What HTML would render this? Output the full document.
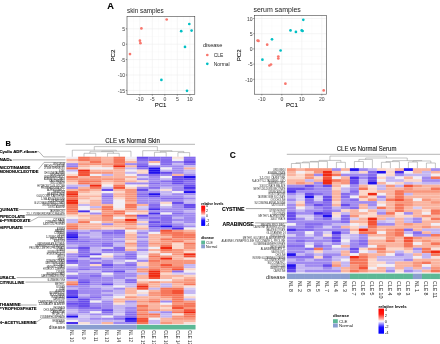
<!DOCTYPE html><html><head><meta charset="utf-8"><style>html,body{margin:0;padding:0;font-family:"Liberation Sans",sans-serif;background:#fff;width:440px;height:344px;overflow:hidden;position:relative}svg{will-change:transform;filter:blur(0.3px)}</style></head><body><svg width="440" height="344" viewBox="0 0 440 344" font-family="&quot;Liberation Sans&quot;, sans-serif" style="position:absolute;left:0;top:0">
<rect x="66.40" y="156.70" width="11.79" height="2.20" fill="#f2eef4"/>
<rect x="78.14" y="156.70" width="11.79" height="2.20" fill="#f6765a"/>
<rect x="89.88" y="156.70" width="11.79" height="2.20" fill="#f8967c"/>
<rect x="101.62" y="156.70" width="11.79" height="2.20" fill="#fab4a0"/>
<rect x="113.36" y="156.70" width="11.79" height="2.20" fill="#f6765a"/>
<rect x="125.10" y="156.70" width="11.79" height="2.20" fill="#f2eef4"/>
<rect x="136.84" y="156.70" width="11.79" height="2.20" fill="#684cec"/>
<rect x="148.58" y="156.70" width="11.79" height="2.20" fill="#866cee"/>
<rect x="160.32" y="156.70" width="11.79" height="2.20" fill="#866cee"/>
<rect x="172.06" y="156.70" width="11.79" height="2.20" fill="#f8e0da"/>
<rect x="183.80" y="156.70" width="11.79" height="2.20" fill="#866cee"/>
<rect x="66.40" y="158.85" width="11.79" height="2.20" fill="#fab4a0"/>
<rect x="78.14" y="158.85" width="11.79" height="2.20" fill="#f6765a"/>
<rect x="89.88" y="158.85" width="11.79" height="2.20" fill="#f8967c"/>
<rect x="101.62" y="158.85" width="11.79" height="2.20" fill="#fab4a0"/>
<rect x="113.36" y="158.85" width="11.79" height="2.20" fill="#f6765a"/>
<rect x="125.10" y="158.85" width="11.79" height="2.20" fill="#f8e0da"/>
<rect x="136.84" y="158.85" width="11.79" height="2.20" fill="#866cee"/>
<rect x="148.58" y="158.85" width="11.79" height="2.20" fill="#866cee"/>
<rect x="160.32" y="158.85" width="11.79" height="2.20" fill="#866cee"/>
<rect x="172.06" y="158.85" width="11.79" height="2.20" fill="#f2eef4"/>
<rect x="183.80" y="158.85" width="11.79" height="2.20" fill="#866cee"/>
<rect x="66.40" y="160.99" width="11.79" height="2.20" fill="#fcd6c8"/>
<rect x="78.14" y="160.99" width="11.79" height="2.20" fill="#fab4a0"/>
<rect x="89.88" y="160.99" width="11.79" height="2.20" fill="#f6765a"/>
<rect x="101.62" y="160.99" width="11.79" height="2.20" fill="#fab4a0"/>
<rect x="113.36" y="160.99" width="11.79" height="2.20" fill="#f6765a"/>
<rect x="125.10" y="160.99" width="11.79" height="2.20" fill="#fab4a0"/>
<rect x="136.84" y="160.99" width="11.79" height="2.20" fill="#a08af0"/>
<rect x="148.58" y="160.99" width="11.79" height="2.20" fill="#fab4a0"/>
<rect x="160.32" y="160.99" width="11.79" height="2.20" fill="#866cee"/>
<rect x="172.06" y="160.99" width="11.79" height="2.20" fill="#a08af0"/>
<rect x="183.80" y="160.99" width="11.79" height="2.20" fill="#684cec"/>
<rect x="66.40" y="163.14" width="11.79" height="2.20" fill="#a08af0"/>
<rect x="78.14" y="163.14" width="11.79" height="2.20" fill="#f8967c"/>
<rect x="89.88" y="163.14" width="11.79" height="2.20" fill="#f8967c"/>
<rect x="101.62" y="163.14" width="11.79" height="2.20" fill="#f8967c"/>
<rect x="113.36" y="163.14" width="11.79" height="2.20" fill="#f6765a"/>
<rect x="125.10" y="163.14" width="11.79" height="2.20" fill="#a08af0"/>
<rect x="136.84" y="163.14" width="11.79" height="2.20" fill="#866cee"/>
<rect x="148.58" y="163.14" width="11.79" height="2.20" fill="#f2eef4"/>
<rect x="160.32" y="163.14" width="11.79" height="2.20" fill="#866cee"/>
<rect x="172.06" y="163.14" width="11.79" height="2.20" fill="#c4b6f2"/>
<rect x="183.80" y="163.14" width="11.79" height="2.20" fill="#866cee"/>
<rect x="66.40" y="165.29" width="11.79" height="2.20" fill="#967eef"/>
<rect x="78.14" y="165.29" width="11.79" height="2.20" fill="#fab4a0"/>
<rect x="89.88" y="165.29" width="11.79" height="2.20" fill="#fcd6c8"/>
<rect x="101.62" y="165.29" width="11.79" height="2.20" fill="#fab4a0"/>
<rect x="113.36" y="165.29" width="11.79" height="2.20" fill="#f02a12"/>
<rect x="125.10" y="165.29" width="11.79" height="2.20" fill="#fab4a0"/>
<rect x="136.84" y="165.29" width="11.79" height="2.20" fill="#684cec"/>
<rect x="148.58" y="165.29" width="11.79" height="2.20" fill="#a08af0"/>
<rect x="160.32" y="165.29" width="11.79" height="2.20" fill="#a08af0"/>
<rect x="172.06" y="165.29" width="11.79" height="2.20" fill="#a08af0"/>
<rect x="183.80" y="165.29" width="11.79" height="2.20" fill="#c4b6f2"/>
<rect x="66.40" y="167.44" width="11.79" height="2.20" fill="#f6765a"/>
<rect x="78.14" y="167.44" width="11.79" height="2.20" fill="#fcd6c8"/>
<rect x="89.88" y="167.44" width="11.79" height="2.20" fill="#f2eef4"/>
<rect x="101.62" y="167.44" width="11.79" height="2.20" fill="#f2eef4"/>
<rect x="113.36" y="167.44" width="11.79" height="2.20" fill="#f8967c"/>
<rect x="125.10" y="167.44" width="11.79" height="2.20" fill="#c4b6f2"/>
<rect x="136.84" y="167.44" width="11.79" height="2.20" fill="#866cee"/>
<rect x="148.58" y="167.44" width="11.79" height="2.20" fill="#2010ee"/>
<rect x="160.32" y="167.44" width="11.79" height="2.20" fill="#f2eef4"/>
<rect x="172.06" y="167.44" width="11.79" height="2.20" fill="#a08af0"/>
<rect x="183.80" y="167.44" width="11.79" height="2.20" fill="#fab4a0"/>
<rect x="66.40" y="169.58" width="11.79" height="2.20" fill="#c4b6f2"/>
<rect x="78.14" y="169.58" width="11.79" height="2.20" fill="#f02a12"/>
<rect x="89.88" y="169.58" width="11.79" height="2.20" fill="#fab4a0"/>
<rect x="101.62" y="169.58" width="11.79" height="2.20" fill="#fab4a0"/>
<rect x="113.36" y="169.58" width="11.79" height="2.20" fill="#fab4a0"/>
<rect x="125.10" y="169.58" width="11.79" height="2.20" fill="#f2eef4"/>
<rect x="136.84" y="169.58" width="11.79" height="2.20" fill="#fcd6c8"/>
<rect x="148.58" y="169.58" width="11.79" height="2.20" fill="#2010ee"/>
<rect x="160.32" y="169.58" width="11.79" height="2.20" fill="#c4b6f2"/>
<rect x="172.06" y="169.58" width="11.79" height="2.20" fill="#a08af0"/>
<rect x="183.80" y="169.58" width="11.79" height="2.20" fill="#c4b6f2"/>
<rect x="66.40" y="171.73" width="11.79" height="2.20" fill="#f2eef4"/>
<rect x="78.14" y="171.73" width="11.79" height="2.20" fill="#f45236"/>
<rect x="89.88" y="171.73" width="11.79" height="2.20" fill="#f8967c"/>
<rect x="101.62" y="171.73" width="11.79" height="2.20" fill="#f8967c"/>
<rect x="113.36" y="171.73" width="11.79" height="2.20" fill="#fab4a0"/>
<rect x="125.10" y="171.73" width="11.79" height="2.20" fill="#c4b6f2"/>
<rect x="136.84" y="171.73" width="11.79" height="2.20" fill="#fcd6c8"/>
<rect x="148.58" y="171.73" width="11.79" height="2.20" fill="#2010ee"/>
<rect x="160.32" y="171.73" width="11.79" height="2.20" fill="#684cec"/>
<rect x="172.06" y="171.73" width="11.79" height="2.20" fill="#a08af0"/>
<rect x="183.80" y="171.73" width="11.79" height="2.20" fill="#c4b6f2"/>
<rect x="66.40" y="173.88" width="11.79" height="2.20" fill="#fcd6c8"/>
<rect x="78.14" y="173.88" width="11.79" height="2.20" fill="#f45236"/>
<rect x="89.88" y="173.88" width="11.79" height="2.20" fill="#f2eef4"/>
<rect x="101.62" y="173.88" width="11.79" height="2.20" fill="#c4b6f2"/>
<rect x="113.36" y="173.88" width="11.79" height="2.20" fill="#fab4a0"/>
<rect x="125.10" y="173.88" width="11.79" height="2.20" fill="#f2eef4"/>
<rect x="136.84" y="173.88" width="11.79" height="2.20" fill="#a08af0"/>
<rect x="148.58" y="173.88" width="11.79" height="2.20" fill="#866cee"/>
<rect x="160.32" y="173.88" width="11.79" height="2.20" fill="#a08af0"/>
<rect x="172.06" y="173.88" width="11.79" height="2.20" fill="#fab4a0"/>
<rect x="183.80" y="173.88" width="11.79" height="2.20" fill="#a08af0"/>
<rect x="66.40" y="176.02" width="11.79" height="2.20" fill="#f6765a"/>
<rect x="78.14" y="176.02" width="11.79" height="2.20" fill="#fab4a0"/>
<rect x="89.88" y="176.02" width="11.79" height="2.20" fill="#f8967c"/>
<rect x="101.62" y="176.02" width="11.79" height="2.20" fill="#fab4a0"/>
<rect x="113.36" y="176.02" width="11.79" height="2.20" fill="#fab4a0"/>
<rect x="125.10" y="176.02" width="11.79" height="2.20" fill="#fab4a0"/>
<rect x="136.84" y="176.02" width="11.79" height="2.20" fill="#d6ccf3"/>
<rect x="148.58" y="176.02" width="11.79" height="2.20" fill="#a08af0"/>
<rect x="160.32" y="176.02" width="11.79" height="2.20" fill="#f2eef4"/>
<rect x="172.06" y="176.02" width="11.79" height="2.20" fill="#684cec"/>
<rect x="183.80" y="176.02" width="11.79" height="2.20" fill="#2010ee"/>
<rect x="66.40" y="178.17" width="11.79" height="2.20" fill="#f8967c"/>
<rect x="78.14" y="178.17" width="11.79" height="2.20" fill="#f8967c"/>
<rect x="89.88" y="178.17" width="11.79" height="2.20" fill="#f8967c"/>
<rect x="101.62" y="178.17" width="11.79" height="2.20" fill="#f8967c"/>
<rect x="113.36" y="178.17" width="11.79" height="2.20" fill="#f8967c"/>
<rect x="125.10" y="178.17" width="11.79" height="2.20" fill="#fcd6c8"/>
<rect x="136.84" y="178.17" width="11.79" height="2.20" fill="#a08af0"/>
<rect x="148.58" y="178.17" width="11.79" height="2.20" fill="#a08af0"/>
<rect x="160.32" y="178.17" width="11.79" height="2.20" fill="#c4b6f2"/>
<rect x="172.06" y="178.17" width="11.79" height="2.20" fill="#684cec"/>
<rect x="183.80" y="178.17" width="11.79" height="2.20" fill="#684cec"/>
<rect x="66.40" y="180.32" width="11.79" height="2.20" fill="#fab4a0"/>
<rect x="78.14" y="180.32" width="11.79" height="2.20" fill="#f6765a"/>
<rect x="89.88" y="180.32" width="11.79" height="2.20" fill="#f6765a"/>
<rect x="101.62" y="180.32" width="11.79" height="2.20" fill="#fab4a0"/>
<rect x="113.36" y="180.32" width="11.79" height="2.20" fill="#f8967c"/>
<rect x="125.10" y="180.32" width="11.79" height="2.20" fill="#fab4a0"/>
<rect x="136.84" y="180.32" width="11.79" height="2.20" fill="#fcd6c8"/>
<rect x="148.58" y="180.32" width="11.79" height="2.20" fill="#a08af0"/>
<rect x="160.32" y="180.32" width="11.79" height="2.20" fill="#866cee"/>
<rect x="172.06" y="180.32" width="11.79" height="2.20" fill="#684cec"/>
<rect x="183.80" y="180.32" width="11.79" height="2.20" fill="#866cee"/>
<rect x="66.40" y="182.46" width="11.79" height="2.20" fill="#fcd6c8"/>
<rect x="78.14" y="182.46" width="11.79" height="2.20" fill="#f6765a"/>
<rect x="89.88" y="182.46" width="11.79" height="2.20" fill="#f8967c"/>
<rect x="101.62" y="182.46" width="11.79" height="2.20" fill="#fcd6c8"/>
<rect x="113.36" y="182.46" width="11.79" height="2.20" fill="#fab4a0"/>
<rect x="125.10" y="182.46" width="11.79" height="2.20" fill="#a08af0"/>
<rect x="136.84" y="182.46" width="11.79" height="2.20" fill="#a08af0"/>
<rect x="148.58" y="182.46" width="11.79" height="2.20" fill="#866cee"/>
<rect x="160.32" y="182.46" width="11.79" height="2.20" fill="#a08af0"/>
<rect x="172.06" y="182.46" width="11.79" height="2.20" fill="#684cec"/>
<rect x="183.80" y="182.46" width="11.79" height="2.20" fill="#866cee"/>
<rect x="66.40" y="184.61" width="11.79" height="2.20" fill="#c4b6f2"/>
<rect x="78.14" y="184.61" width="11.79" height="2.20" fill="#c4b6f2"/>
<rect x="89.88" y="184.61" width="11.79" height="2.20" fill="#f02a12"/>
<rect x="101.62" y="184.61" width="11.79" height="2.20" fill="#f2eef4"/>
<rect x="113.36" y="184.61" width="11.79" height="2.20" fill="#f6765a"/>
<rect x="125.10" y="184.61" width="11.79" height="2.20" fill="#f2eef4"/>
<rect x="136.84" y="184.61" width="11.79" height="2.20" fill="#f8e0da"/>
<rect x="148.58" y="184.61" width="11.79" height="2.20" fill="#a08af0"/>
<rect x="160.32" y="184.61" width="11.79" height="2.20" fill="#a08af0"/>
<rect x="172.06" y="184.61" width="11.79" height="2.20" fill="#a08af0"/>
<rect x="183.80" y="184.61" width="11.79" height="2.20" fill="#684cec"/>
<rect x="66.40" y="186.76" width="11.79" height="2.20" fill="#a08af0"/>
<rect x="78.14" y="186.76" width="11.79" height="2.20" fill="#fab4a0"/>
<rect x="89.88" y="186.76" width="11.79" height="2.20" fill="#f6765a"/>
<rect x="101.62" y="186.76" width="11.79" height="2.20" fill="#c4b6f2"/>
<rect x="113.36" y="186.76" width="11.79" height="2.20" fill="#f45236"/>
<rect x="125.10" y="186.76" width="11.79" height="2.20" fill="#fcd6c8"/>
<rect x="136.84" y="186.76" width="11.79" height="2.20" fill="#a08af0"/>
<rect x="148.58" y="186.76" width="11.79" height="2.20" fill="#866cee"/>
<rect x="160.32" y="186.76" width="11.79" height="2.20" fill="#c4b6f2"/>
<rect x="172.06" y="186.76" width="11.79" height="2.20" fill="#a08af0"/>
<rect x="183.80" y="186.76" width="11.79" height="2.20" fill="#482eec"/>
<rect x="66.40" y="188.90" width="11.79" height="2.20" fill="#fab4a0"/>
<rect x="78.14" y="188.90" width="11.79" height="2.20" fill="#f8967c"/>
<rect x="89.88" y="188.90" width="11.79" height="2.20" fill="#fab4a0"/>
<rect x="101.62" y="188.90" width="11.79" height="2.20" fill="#684cec"/>
<rect x="113.36" y="188.90" width="11.79" height="2.20" fill="#fab4a0"/>
<rect x="125.10" y="188.90" width="11.79" height="2.20" fill="#f8967c"/>
<rect x="136.84" y="188.90" width="11.79" height="2.20" fill="#684cec"/>
<rect x="148.58" y="188.90" width="11.79" height="2.20" fill="#c4b6f2"/>
<rect x="160.32" y="188.90" width="11.79" height="2.20" fill="#f8e0da"/>
<rect x="172.06" y="188.90" width="11.79" height="2.20" fill="#a08af0"/>
<rect x="183.80" y="188.90" width="11.79" height="2.20" fill="#866cee"/>
<rect x="66.40" y="191.05" width="11.79" height="2.20" fill="#f45236"/>
<rect x="78.14" y="191.05" width="11.79" height="2.20" fill="#fab4a0"/>
<rect x="89.88" y="191.05" width="11.79" height="2.20" fill="#fcd6c8"/>
<rect x="101.62" y="191.05" width="11.79" height="2.20" fill="#f2eef4"/>
<rect x="113.36" y="191.05" width="11.79" height="2.20" fill="#fcd6c8"/>
<rect x="125.10" y="191.05" width="11.79" height="2.20" fill="#f8967c"/>
<rect x="136.84" y="191.05" width="11.79" height="2.20" fill="#a08af0"/>
<rect x="148.58" y="191.05" width="11.79" height="2.20" fill="#a08af0"/>
<rect x="160.32" y="191.05" width="11.79" height="2.20" fill="#c4b6f2"/>
<rect x="172.06" y="191.05" width="11.79" height="2.20" fill="#f2eef4"/>
<rect x="183.80" y="191.05" width="11.79" height="2.20" fill="#2010ee"/>
<rect x="66.40" y="193.20" width="11.79" height="2.20" fill="#f02a12"/>
<rect x="78.14" y="193.20" width="11.79" height="2.20" fill="#fcd6c8"/>
<rect x="89.88" y="193.20" width="11.79" height="2.20" fill="#fcd6c8"/>
<rect x="101.62" y="193.20" width="11.79" height="2.20" fill="#a08af0"/>
<rect x="113.36" y="193.20" width="11.79" height="2.20" fill="#fab4a0"/>
<rect x="125.10" y="193.20" width="11.79" height="2.20" fill="#f8967c"/>
<rect x="136.84" y="193.20" width="11.79" height="2.20" fill="#866cee"/>
<rect x="148.58" y="193.20" width="11.79" height="2.20" fill="#2010ee"/>
<rect x="160.32" y="193.20" width="11.79" height="2.20" fill="#c4b6f2"/>
<rect x="172.06" y="193.20" width="11.79" height="2.20" fill="#a08af0"/>
<rect x="183.80" y="193.20" width="11.79" height="2.20" fill="#a08af0"/>
<rect x="66.40" y="195.35" width="11.79" height="2.20" fill="#f45236"/>
<rect x="78.14" y="195.35" width="11.79" height="2.20" fill="#fab4a0"/>
<rect x="89.88" y="195.35" width="11.79" height="2.20" fill="#fab4a0"/>
<rect x="101.62" y="195.35" width="11.79" height="2.20" fill="#866cee"/>
<rect x="113.36" y="195.35" width="11.79" height="2.20" fill="#fab4a0"/>
<rect x="125.10" y="195.35" width="11.79" height="2.20" fill="#f8967c"/>
<rect x="136.84" y="195.35" width="11.79" height="2.20" fill="#866cee"/>
<rect x="148.58" y="195.35" width="11.79" height="2.20" fill="#684cec"/>
<rect x="160.32" y="195.35" width="11.79" height="2.20" fill="#a08af0"/>
<rect x="172.06" y="195.35" width="11.79" height="2.20" fill="#a08af0"/>
<rect x="183.80" y="195.35" width="11.79" height="2.20" fill="#c4b6f2"/>
<rect x="66.40" y="197.49" width="11.79" height="2.20" fill="#f6765a"/>
<rect x="78.14" y="197.49" width="11.79" height="2.20" fill="#fab4a0"/>
<rect x="89.88" y="197.49" width="11.79" height="2.20" fill="#fcd6c8"/>
<rect x="101.62" y="197.49" width="11.79" height="2.20" fill="#a08af0"/>
<rect x="113.36" y="197.49" width="11.79" height="2.20" fill="#fcd6c8"/>
<rect x="125.10" y="197.49" width="11.79" height="2.20" fill="#f8967c"/>
<rect x="136.84" y="197.49" width="11.79" height="2.20" fill="#a08af0"/>
<rect x="148.58" y="197.49" width="11.79" height="2.20" fill="#a08af0"/>
<rect x="160.32" y="197.49" width="11.79" height="2.20" fill="#866cee"/>
<rect x="172.06" y="197.49" width="11.79" height="2.20" fill="#866cee"/>
<rect x="183.80" y="197.49" width="11.79" height="2.20" fill="#a08af0"/>
<rect x="66.40" y="199.64" width="11.79" height="2.20" fill="#f02a12"/>
<rect x="78.14" y="199.64" width="11.79" height="2.20" fill="#f8e0da"/>
<rect x="89.88" y="199.64" width="11.79" height="2.20" fill="#fab4a0"/>
<rect x="101.62" y="199.64" width="11.79" height="2.20" fill="#a08af0"/>
<rect x="113.36" y="199.64" width="11.79" height="2.20" fill="#f2eef4"/>
<rect x="125.10" y="199.64" width="11.79" height="2.20" fill="#f8967c"/>
<rect x="136.84" y="199.64" width="11.79" height="2.20" fill="#a08af0"/>
<rect x="148.58" y="199.64" width="11.79" height="2.20" fill="#a08af0"/>
<rect x="160.32" y="199.64" width="11.79" height="2.20" fill="#a08af0"/>
<rect x="172.06" y="199.64" width="11.79" height="2.20" fill="#a08af0"/>
<rect x="183.80" y="199.64" width="11.79" height="2.20" fill="#c4b6f2"/>
<rect x="66.40" y="201.79" width="11.79" height="2.20" fill="#f02a12"/>
<rect x="78.14" y="201.79" width="11.79" height="2.20" fill="#fcd6c8"/>
<rect x="89.88" y="201.79" width="11.79" height="2.20" fill="#fab4a0"/>
<rect x="101.62" y="201.79" width="11.79" height="2.20" fill="#a08af0"/>
<rect x="113.36" y="201.79" width="11.79" height="2.20" fill="#f2eef4"/>
<rect x="125.10" y="201.79" width="11.79" height="2.20" fill="#fab4a0"/>
<rect x="136.84" y="201.79" width="11.79" height="2.20" fill="#a08af0"/>
<rect x="148.58" y="201.79" width="11.79" height="2.20" fill="#a08af0"/>
<rect x="160.32" y="201.79" width="11.79" height="2.20" fill="#fcd6c8"/>
<rect x="172.06" y="201.79" width="11.79" height="2.20" fill="#684cec"/>
<rect x="183.80" y="201.79" width="11.79" height="2.20" fill="#c4b6f2"/>
<rect x="66.40" y="203.93" width="11.79" height="2.20" fill="#f6765a"/>
<rect x="78.14" y="203.93" width="11.79" height="2.20" fill="#c4b6f2"/>
<rect x="89.88" y="203.93" width="11.79" height="2.20" fill="#fab4a0"/>
<rect x="101.62" y="203.93" width="11.79" height="2.20" fill="#fab4a0"/>
<rect x="113.36" y="203.93" width="11.79" height="2.20" fill="#f2eef4"/>
<rect x="125.10" y="203.93" width="11.79" height="2.20" fill="#f6765a"/>
<rect x="136.84" y="203.93" width="11.79" height="2.20" fill="#fab4a0"/>
<rect x="148.58" y="203.93" width="11.79" height="2.20" fill="#866cee"/>
<rect x="160.32" y="203.93" width="11.79" height="2.20" fill="#f2eef4"/>
<rect x="172.06" y="203.93" width="11.79" height="2.20" fill="#a08af0"/>
<rect x="183.80" y="203.93" width="11.79" height="2.20" fill="#684cec"/>
<rect x="66.40" y="206.08" width="11.79" height="2.20" fill="#f6765a"/>
<rect x="78.14" y="206.08" width="11.79" height="2.20" fill="#f2eef4"/>
<rect x="89.88" y="206.08" width="11.79" height="2.20" fill="#c4b6f2"/>
<rect x="101.62" y="206.08" width="11.79" height="2.20" fill="#f6765a"/>
<rect x="113.36" y="206.08" width="11.79" height="2.20" fill="#f2eef4"/>
<rect x="125.10" y="206.08" width="11.79" height="2.20" fill="#f6765a"/>
<rect x="136.84" y="206.08" width="11.79" height="2.20" fill="#d6ccf3"/>
<rect x="148.58" y="206.08" width="11.79" height="2.20" fill="#866cee"/>
<rect x="160.32" y="206.08" width="11.79" height="2.20" fill="#c4b6f2"/>
<rect x="172.06" y="206.08" width="11.79" height="2.20" fill="#a08af0"/>
<rect x="183.80" y="206.08" width="11.79" height="2.20" fill="#684cec"/>
<rect x="66.40" y="208.23" width="11.79" height="2.20" fill="#f6765a"/>
<rect x="78.14" y="208.23" width="11.79" height="2.20" fill="#f2eef4"/>
<rect x="89.88" y="208.23" width="11.79" height="2.20" fill="#fab4a0"/>
<rect x="101.62" y="208.23" width="11.79" height="2.20" fill="#f6765a"/>
<rect x="113.36" y="208.23" width="11.79" height="2.20" fill="#f8e0da"/>
<rect x="125.10" y="208.23" width="11.79" height="2.20" fill="#f8967c"/>
<rect x="136.84" y="208.23" width="11.79" height="2.20" fill="#c4b6f2"/>
<rect x="148.58" y="208.23" width="11.79" height="2.20" fill="#482eec"/>
<rect x="160.32" y="208.23" width="11.79" height="2.20" fill="#a08af0"/>
<rect x="172.06" y="208.23" width="11.79" height="2.20" fill="#a08af0"/>
<rect x="183.80" y="208.23" width="11.79" height="2.20" fill="#a08af0"/>
<rect x="66.40" y="210.38" width="11.79" height="2.20" fill="#f6765a"/>
<rect x="78.14" y="210.38" width="11.79" height="2.20" fill="#482eec"/>
<rect x="89.88" y="210.38" width="11.79" height="2.20" fill="#f2eef4"/>
<rect x="101.62" y="210.38" width="11.79" height="2.20" fill="#f8967c"/>
<rect x="113.36" y="210.38" width="11.79" height="2.20" fill="#f6765a"/>
<rect x="125.10" y="210.38" width="11.79" height="2.20" fill="#fab4a0"/>
<rect x="136.84" y="210.38" width="11.79" height="2.20" fill="#fab4a0"/>
<rect x="148.58" y="210.38" width="11.79" height="2.20" fill="#a08af0"/>
<rect x="160.32" y="210.38" width="11.79" height="2.20" fill="#a08af0"/>
<rect x="172.06" y="210.38" width="11.79" height="2.20" fill="#a08af0"/>
<rect x="183.80" y="210.38" width="11.79" height="2.20" fill="#c4b6f2"/>
<rect x="66.40" y="212.52" width="11.79" height="2.20" fill="#f8967c"/>
<rect x="78.14" y="212.52" width="11.79" height="2.20" fill="#fcd6c8"/>
<rect x="89.88" y="212.52" width="11.79" height="2.20" fill="#a08af0"/>
<rect x="101.62" y="212.52" width="11.79" height="2.20" fill="#f8967c"/>
<rect x="113.36" y="212.52" width="11.79" height="2.20" fill="#f6765a"/>
<rect x="125.10" y="212.52" width="11.79" height="2.20" fill="#f2eef4"/>
<rect x="136.84" y="212.52" width="11.79" height="2.20" fill="#fcd6c8"/>
<rect x="148.58" y="212.52" width="11.79" height="2.20" fill="#482eec"/>
<rect x="160.32" y="212.52" width="11.79" height="2.20" fill="#f2eef4"/>
<rect x="172.06" y="212.52" width="11.79" height="2.20" fill="#866cee"/>
<rect x="183.80" y="212.52" width="11.79" height="2.20" fill="#a08af0"/>
<rect x="66.40" y="214.67" width="11.79" height="2.20" fill="#fcd6c8"/>
<rect x="78.14" y="214.67" width="11.79" height="2.20" fill="#fab4a0"/>
<rect x="89.88" y="214.67" width="11.79" height="2.20" fill="#fab4a0"/>
<rect x="101.62" y="214.67" width="11.79" height="2.20" fill="#f6765a"/>
<rect x="113.36" y="214.67" width="11.79" height="2.20" fill="#fab4a0"/>
<rect x="125.10" y="214.67" width="11.79" height="2.20" fill="#f6765a"/>
<rect x="136.84" y="214.67" width="11.79" height="2.20" fill="#684cec"/>
<rect x="148.58" y="214.67" width="11.79" height="2.20" fill="#a08af0"/>
<rect x="160.32" y="214.67" width="11.79" height="2.20" fill="#866cee"/>
<rect x="172.06" y="214.67" width="11.79" height="2.20" fill="#a08af0"/>
<rect x="183.80" y="214.67" width="11.79" height="2.20" fill="#a08af0"/>
<rect x="66.40" y="216.82" width="11.79" height="2.20" fill="#f2eef4"/>
<rect x="78.14" y="216.82" width="11.79" height="2.20" fill="#fcd6c8"/>
<rect x="89.88" y="216.82" width="11.79" height="2.20" fill="#fab4a0"/>
<rect x="101.62" y="216.82" width="11.79" height="2.20" fill="#f8967c"/>
<rect x="113.36" y="216.82" width="11.79" height="2.20" fill="#f2eef4"/>
<rect x="125.10" y="216.82" width="11.79" height="2.20" fill="#fab4a0"/>
<rect x="136.84" y="216.82" width="11.79" height="2.20" fill="#a08af0"/>
<rect x="148.58" y="216.82" width="11.79" height="2.20" fill="#866cee"/>
<rect x="160.32" y="216.82" width="11.79" height="2.20" fill="#866cee"/>
<rect x="172.06" y="216.82" width="11.79" height="2.20" fill="#c4b6f2"/>
<rect x="183.80" y="216.82" width="11.79" height="2.20" fill="#a08af0"/>
<rect x="66.40" y="218.96" width="11.79" height="2.20" fill="#c4b6f2"/>
<rect x="78.14" y="218.96" width="11.79" height="2.20" fill="#fab4a0"/>
<rect x="89.88" y="218.96" width="11.79" height="2.20" fill="#fab4a0"/>
<rect x="101.62" y="218.96" width="11.79" height="2.20" fill="#f8967c"/>
<rect x="113.36" y="218.96" width="11.79" height="2.20" fill="#fab4a0"/>
<rect x="125.10" y="218.96" width="11.79" height="2.20" fill="#f02a12"/>
<rect x="136.84" y="218.96" width="11.79" height="2.20" fill="#c4b6f2"/>
<rect x="148.58" y="218.96" width="11.79" height="2.20" fill="#a08af0"/>
<rect x="160.32" y="218.96" width="11.79" height="2.20" fill="#866cee"/>
<rect x="172.06" y="218.96" width="11.79" height="2.20" fill="#a08af0"/>
<rect x="183.80" y="218.96" width="11.79" height="2.20" fill="#a08af0"/>
<rect x="66.40" y="221.11" width="11.79" height="2.20" fill="#c4b6f2"/>
<rect x="78.14" y="221.11" width="11.79" height="2.20" fill="#f6765a"/>
<rect x="89.88" y="221.11" width="11.79" height="2.20" fill="#f2eef4"/>
<rect x="101.62" y="221.11" width="11.79" height="2.20" fill="#fab4a0"/>
<rect x="113.36" y="221.11" width="11.79" height="2.20" fill="#f8967c"/>
<rect x="125.10" y="221.11" width="11.79" height="2.20" fill="#f6765a"/>
<rect x="136.84" y="221.11" width="11.79" height="2.20" fill="#fcd6c8"/>
<rect x="148.58" y="221.11" width="11.79" height="2.20" fill="#684cec"/>
<rect x="160.32" y="221.11" width="11.79" height="2.20" fill="#866cee"/>
<rect x="172.06" y="221.11" width="11.79" height="2.20" fill="#c4b6f2"/>
<rect x="183.80" y="221.11" width="11.79" height="2.20" fill="#a08af0"/>
<rect x="66.40" y="223.26" width="11.79" height="2.20" fill="#f8967c"/>
<rect x="78.14" y="223.26" width="11.79" height="2.20" fill="#fab4a0"/>
<rect x="89.88" y="223.26" width="11.79" height="2.20" fill="#fab4a0"/>
<rect x="101.62" y="223.26" width="11.79" height="2.20" fill="#a08af0"/>
<rect x="113.36" y="223.26" width="11.79" height="2.20" fill="#fab4a0"/>
<rect x="125.10" y="223.26" width="11.79" height="2.20" fill="#f8967c"/>
<rect x="136.84" y="223.26" width="11.79" height="2.20" fill="#c4b6f2"/>
<rect x="148.58" y="223.26" width="11.79" height="2.20" fill="#866cee"/>
<rect x="160.32" y="223.26" width="11.79" height="2.20" fill="#866cee"/>
<rect x="172.06" y="223.26" width="11.79" height="2.20" fill="#a08af0"/>
<rect x="183.80" y="223.26" width="11.79" height="2.20" fill="#c4b6f2"/>
<rect x="66.40" y="225.40" width="11.79" height="2.20" fill="#f6765a"/>
<rect x="78.14" y="225.40" width="11.79" height="2.20" fill="#fab4a0"/>
<rect x="89.88" y="225.40" width="11.79" height="2.20" fill="#fab4a0"/>
<rect x="101.62" y="225.40" width="11.79" height="2.20" fill="#fab4a0"/>
<rect x="113.36" y="225.40" width="11.79" height="2.20" fill="#fab4a0"/>
<rect x="125.10" y="225.40" width="11.79" height="2.20" fill="#fab4a0"/>
<rect x="136.84" y="225.40" width="11.79" height="2.20" fill="#fcd6c8"/>
<rect x="148.58" y="225.40" width="11.79" height="2.20" fill="#684cec"/>
<rect x="160.32" y="225.40" width="11.79" height="2.20" fill="#2010ee"/>
<rect x="172.06" y="225.40" width="11.79" height="2.20" fill="#866cee"/>
<rect x="183.80" y="225.40" width="11.79" height="2.20" fill="#a08af0"/>
<rect x="66.40" y="227.55" width="11.79" height="2.20" fill="#f6765a"/>
<rect x="78.14" y="227.55" width="11.79" height="2.20" fill="#fab4a0"/>
<rect x="89.88" y="227.55" width="11.79" height="2.20" fill="#fab4a0"/>
<rect x="101.62" y="227.55" width="11.79" height="2.20" fill="#fcd6c8"/>
<rect x="113.36" y="227.55" width="11.79" height="2.20" fill="#fcd6c8"/>
<rect x="125.10" y="227.55" width="11.79" height="2.20" fill="#f8967c"/>
<rect x="136.84" y="227.55" width="11.79" height="2.20" fill="#fab4a0"/>
<rect x="148.58" y="227.55" width="11.79" height="2.20" fill="#a08af0"/>
<rect x="160.32" y="227.55" width="11.79" height="2.20" fill="#a08af0"/>
<rect x="172.06" y="227.55" width="11.79" height="2.20" fill="#482eec"/>
<rect x="183.80" y="227.55" width="11.79" height="2.20" fill="#f2eef4"/>
<rect x="66.40" y="229.70" width="11.79" height="2.20" fill="#a08af0"/>
<rect x="78.14" y="229.70" width="11.79" height="2.20" fill="#c4b6f2"/>
<rect x="89.88" y="229.70" width="11.79" height="2.20" fill="#a08af0"/>
<rect x="101.62" y="229.70" width="11.79" height="2.20" fill="#a08af0"/>
<rect x="113.36" y="229.70" width="11.79" height="2.20" fill="#866cee"/>
<rect x="125.10" y="229.70" width="11.79" height="2.20" fill="#f2eef4"/>
<rect x="136.84" y="229.70" width="11.79" height="2.20" fill="#c4b6f2"/>
<rect x="148.58" y="229.70" width="11.79" height="2.20" fill="#a08af0"/>
<rect x="160.32" y="229.70" width="11.79" height="2.20" fill="#f45236"/>
<rect x="172.06" y="229.70" width="11.79" height="2.20" fill="#f8967c"/>
<rect x="183.80" y="229.70" width="11.79" height="2.20" fill="#fab4a0"/>
<rect x="66.40" y="231.84" width="11.79" height="2.20" fill="#684cec"/>
<rect x="78.14" y="231.84" width="11.79" height="2.20" fill="#a08af0"/>
<rect x="89.88" y="231.84" width="11.79" height="2.20" fill="#c4b6f2"/>
<rect x="101.62" y="231.84" width="11.79" height="2.20" fill="#866cee"/>
<rect x="113.36" y="231.84" width="11.79" height="2.20" fill="#866cee"/>
<rect x="125.10" y="231.84" width="11.79" height="2.20" fill="#fcd6c8"/>
<rect x="136.84" y="231.84" width="11.79" height="2.20" fill="#a08af0"/>
<rect x="148.58" y="231.84" width="11.79" height="2.20" fill="#f2eef4"/>
<rect x="160.32" y="231.84" width="11.79" height="2.20" fill="#f6765a"/>
<rect x="172.06" y="231.84" width="11.79" height="2.20" fill="#f6765a"/>
<rect x="183.80" y="231.84" width="11.79" height="2.20" fill="#f8967c"/>
<rect x="66.40" y="233.99" width="11.79" height="2.20" fill="#482eec"/>
<rect x="78.14" y="233.99" width="11.79" height="2.20" fill="#c4b6f2"/>
<rect x="89.88" y="233.99" width="11.79" height="2.20" fill="#c4b6f2"/>
<rect x="101.62" y="233.99" width="11.79" height="2.20" fill="#a08af0"/>
<rect x="113.36" y="233.99" width="11.79" height="2.20" fill="#a08af0"/>
<rect x="125.10" y="233.99" width="11.79" height="2.20" fill="#fab4a0"/>
<rect x="136.84" y="233.99" width="11.79" height="2.20" fill="#c4b6f2"/>
<rect x="148.58" y="233.99" width="11.79" height="2.20" fill="#fab4a0"/>
<rect x="160.32" y="233.99" width="11.79" height="2.20" fill="#f8967c"/>
<rect x="172.06" y="233.99" width="11.79" height="2.20" fill="#f6765a"/>
<rect x="183.80" y="233.99" width="11.79" height="2.20" fill="#f6765a"/>
<rect x="66.40" y="236.14" width="11.79" height="2.20" fill="#2010ee"/>
<rect x="78.14" y="236.14" width="11.79" height="2.20" fill="#a08af0"/>
<rect x="89.88" y="236.14" width="11.79" height="2.20" fill="#c4b6f2"/>
<rect x="101.62" y="236.14" width="11.79" height="2.20" fill="#a08af0"/>
<rect x="113.36" y="236.14" width="11.79" height="2.20" fill="#a08af0"/>
<rect x="125.10" y="236.14" width="11.79" height="2.20" fill="#fab4a0"/>
<rect x="136.84" y="236.14" width="11.79" height="2.20" fill="#a08af0"/>
<rect x="148.58" y="236.14" width="11.79" height="2.20" fill="#fab4a0"/>
<rect x="160.32" y="236.14" width="11.79" height="2.20" fill="#fab4a0"/>
<rect x="172.06" y="236.14" width="11.79" height="2.20" fill="#f6765a"/>
<rect x="183.80" y="236.14" width="11.79" height="2.20" fill="#f6765a"/>
<rect x="66.40" y="238.29" width="11.79" height="2.20" fill="#684cec"/>
<rect x="78.14" y="238.29" width="11.79" height="2.20" fill="#a08af0"/>
<rect x="89.88" y="238.29" width="11.79" height="2.20" fill="#a08af0"/>
<rect x="101.62" y="238.29" width="11.79" height="2.20" fill="#a08af0"/>
<rect x="113.36" y="238.29" width="11.79" height="2.20" fill="#c4b6f2"/>
<rect x="125.10" y="238.29" width="11.79" height="2.20" fill="#fab4a0"/>
<rect x="136.84" y="238.29" width="11.79" height="2.20" fill="#c4b6f2"/>
<rect x="148.58" y="238.29" width="11.79" height="2.20" fill="#fab4a0"/>
<rect x="160.32" y="238.29" width="11.79" height="2.20" fill="#f6765a"/>
<rect x="172.06" y="238.29" width="11.79" height="2.20" fill="#f8967c"/>
<rect x="183.80" y="238.29" width="11.79" height="2.20" fill="#f8967c"/>
<rect x="66.40" y="240.43" width="11.79" height="2.20" fill="#866cee"/>
<rect x="78.14" y="240.43" width="11.79" height="2.20" fill="#866cee"/>
<rect x="89.88" y="240.43" width="11.79" height="2.20" fill="#a08af0"/>
<rect x="101.62" y="240.43" width="11.79" height="2.20" fill="#a08af0"/>
<rect x="113.36" y="240.43" width="11.79" height="2.20" fill="#a08af0"/>
<rect x="125.10" y="240.43" width="11.79" height="2.20" fill="#fcd6c8"/>
<rect x="136.84" y="240.43" width="11.79" height="2.20" fill="#a08af0"/>
<rect x="148.58" y="240.43" width="11.79" height="2.20" fill="#fab4a0"/>
<rect x="160.32" y="240.43" width="11.79" height="2.20" fill="#f8967c"/>
<rect x="172.06" y="240.43" width="11.79" height="2.20" fill="#f6765a"/>
<rect x="183.80" y="240.43" width="11.79" height="2.20" fill="#fab4a0"/>
<rect x="66.40" y="242.58" width="11.79" height="2.20" fill="#a08af0"/>
<rect x="78.14" y="242.58" width="11.79" height="2.20" fill="#a08af0"/>
<rect x="89.88" y="242.58" width="11.79" height="2.20" fill="#a08af0"/>
<rect x="101.62" y="242.58" width="11.79" height="2.20" fill="#866cee"/>
<rect x="113.36" y="242.58" width="11.79" height="2.20" fill="#c4b6f2"/>
<rect x="125.10" y="242.58" width="11.79" height="2.20" fill="#f8967c"/>
<rect x="136.84" y="242.58" width="11.79" height="2.20" fill="#a08af0"/>
<rect x="148.58" y="242.58" width="11.79" height="2.20" fill="#f8967c"/>
<rect x="160.32" y="242.58" width="11.79" height="2.20" fill="#f8967c"/>
<rect x="172.06" y="242.58" width="11.79" height="2.20" fill="#fcd6c8"/>
<rect x="183.80" y="242.58" width="11.79" height="2.20" fill="#f6765a"/>
<rect x="66.40" y="244.73" width="11.79" height="2.20" fill="#c4b6f2"/>
<rect x="78.14" y="244.73" width="11.79" height="2.20" fill="#a08af0"/>
<rect x="89.88" y="244.73" width="11.79" height="2.20" fill="#a08af0"/>
<rect x="101.62" y="244.73" width="11.79" height="2.20" fill="#866cee"/>
<rect x="113.36" y="244.73" width="11.79" height="2.20" fill="#c4b6f2"/>
<rect x="125.10" y="244.73" width="11.79" height="2.20" fill="#fab4a0"/>
<rect x="136.84" y="244.73" width="11.79" height="2.20" fill="#a08af0"/>
<rect x="148.58" y="244.73" width="11.79" height="2.20" fill="#fab4a0"/>
<rect x="160.32" y="244.73" width="11.79" height="2.20" fill="#f6765a"/>
<rect x="172.06" y="244.73" width="11.79" height="2.20" fill="#fcd6c8"/>
<rect x="183.80" y="244.73" width="11.79" height="2.20" fill="#f8967c"/>
<rect x="66.40" y="246.87" width="11.79" height="2.20" fill="#a08af0"/>
<rect x="78.14" y="246.87" width="11.79" height="2.20" fill="#684cec"/>
<rect x="89.88" y="246.87" width="11.79" height="2.20" fill="#c4b6f2"/>
<rect x="101.62" y="246.87" width="11.79" height="2.20" fill="#d6ccf3"/>
<rect x="113.36" y="246.87" width="11.79" height="2.20" fill="#866cee"/>
<rect x="125.10" y="246.87" width="11.79" height="2.20" fill="#fcd6c8"/>
<rect x="136.84" y="246.87" width="11.79" height="2.20" fill="#c4b6f2"/>
<rect x="148.58" y="246.87" width="11.79" height="2.20" fill="#f2eef4"/>
<rect x="160.32" y="246.87" width="11.79" height="2.20" fill="#f02a12"/>
<rect x="172.06" y="246.87" width="11.79" height="2.20" fill="#fcd6c8"/>
<rect x="183.80" y="246.87" width="11.79" height="2.20" fill="#f8967c"/>
<rect x="66.40" y="249.02" width="11.79" height="2.20" fill="#f2eef4"/>
<rect x="78.14" y="249.02" width="11.79" height="2.20" fill="#866cee"/>
<rect x="89.88" y="249.02" width="11.79" height="2.20" fill="#c4b6f2"/>
<rect x="101.62" y="249.02" width="11.79" height="2.20" fill="#866cee"/>
<rect x="113.36" y="249.02" width="11.79" height="2.20" fill="#866cee"/>
<rect x="125.10" y="249.02" width="11.79" height="2.20" fill="#fab4a0"/>
<rect x="136.84" y="249.02" width="11.79" height="2.20" fill="#a08af0"/>
<rect x="148.58" y="249.02" width="11.79" height="2.20" fill="#fab4a0"/>
<rect x="160.32" y="249.02" width="11.79" height="2.20" fill="#f6765a"/>
<rect x="172.06" y="249.02" width="11.79" height="2.20" fill="#f8967c"/>
<rect x="183.80" y="249.02" width="11.79" height="2.20" fill="#fab4a0"/>
<rect x="66.40" y="251.17" width="11.79" height="2.20" fill="#f8e0da"/>
<rect x="78.14" y="251.17" width="11.79" height="2.20" fill="#866cee"/>
<rect x="89.88" y="251.17" width="11.79" height="2.20" fill="#c4b6f2"/>
<rect x="101.62" y="251.17" width="11.79" height="2.20" fill="#a08af0"/>
<rect x="113.36" y="251.17" width="11.79" height="2.20" fill="#a08af0"/>
<rect x="125.10" y="251.17" width="11.79" height="2.20" fill="#a08af0"/>
<rect x="136.84" y="251.17" width="11.79" height="2.20" fill="#d6ccf3"/>
<rect x="148.58" y="251.17" width="11.79" height="2.20" fill="#f8e0da"/>
<rect x="160.32" y="251.17" width="11.79" height="2.20" fill="#f8967c"/>
<rect x="172.06" y="251.17" width="11.79" height="2.20" fill="#f8967c"/>
<rect x="183.80" y="251.17" width="11.79" height="2.20" fill="#fcd6c8"/>
<rect x="66.40" y="253.31" width="11.79" height="2.20" fill="#a08af0"/>
<rect x="78.14" y="253.31" width="11.79" height="2.20" fill="#866cee"/>
<rect x="89.88" y="253.31" width="11.79" height="2.20" fill="#684cec"/>
<rect x="101.62" y="253.31" width="11.79" height="2.20" fill="#f2eef4"/>
<rect x="113.36" y="253.31" width="11.79" height="2.20" fill="#c4b6f2"/>
<rect x="125.10" y="253.31" width="11.79" height="2.20" fill="#866cee"/>
<rect x="136.84" y="253.31" width="11.79" height="2.20" fill="#d6ccf3"/>
<rect x="148.58" y="253.31" width="11.79" height="2.20" fill="#f8967c"/>
<rect x="160.32" y="253.31" width="11.79" height="2.20" fill="#f2eef4"/>
<rect x="172.06" y="253.31" width="11.79" height="2.20" fill="#f8967c"/>
<rect x="183.80" y="253.31" width="11.79" height="2.20" fill="#f02a12"/>
<rect x="66.40" y="255.46" width="11.79" height="2.20" fill="#a08af0"/>
<rect x="78.14" y="255.46" width="11.79" height="2.20" fill="#684cec"/>
<rect x="89.88" y="255.46" width="11.79" height="2.20" fill="#f2eef4"/>
<rect x="101.62" y="255.46" width="11.79" height="2.20" fill="#fcd6c8"/>
<rect x="113.36" y="255.46" width="11.79" height="2.20" fill="#a08af0"/>
<rect x="125.10" y="255.46" width="11.79" height="2.20" fill="#866cee"/>
<rect x="136.84" y="255.46" width="11.79" height="2.20" fill="#f2eef4"/>
<rect x="148.58" y="255.46" width="11.79" height="2.20" fill="#f6765a"/>
<rect x="160.32" y="255.46" width="11.79" height="2.20" fill="#f8967c"/>
<rect x="172.06" y="255.46" width="11.79" height="2.20" fill="#fab4a0"/>
<rect x="183.80" y="255.46" width="11.79" height="2.20" fill="#f45236"/>
<rect x="66.40" y="257.61" width="11.79" height="2.20" fill="#a08af0"/>
<rect x="78.14" y="257.61" width="11.79" height="2.20" fill="#c4b6f2"/>
<rect x="89.88" y="257.61" width="11.79" height="2.20" fill="#866cee"/>
<rect x="101.62" y="257.61" width="11.79" height="2.20" fill="#c4b6f2"/>
<rect x="113.36" y="257.61" width="11.79" height="2.20" fill="#a08af0"/>
<rect x="125.10" y="257.61" width="11.79" height="2.20" fill="#866cee"/>
<rect x="136.84" y="257.61" width="11.79" height="2.20" fill="#d6ccf3"/>
<rect x="148.58" y="257.61" width="11.79" height="2.20" fill="#f8967c"/>
<rect x="160.32" y="257.61" width="11.79" height="2.20" fill="#f02a12"/>
<rect x="172.06" y="257.61" width="11.79" height="2.20" fill="#fab4a0"/>
<rect x="183.80" y="257.61" width="11.79" height="2.20" fill="#f8e0da"/>
<rect x="66.40" y="259.76" width="11.79" height="2.20" fill="#684cec"/>
<rect x="78.14" y="259.76" width="11.79" height="2.20" fill="#a08af0"/>
<rect x="89.88" y="259.76" width="11.79" height="2.20" fill="#c4b6f2"/>
<rect x="101.62" y="259.76" width="11.79" height="2.20" fill="#a08af0"/>
<rect x="113.36" y="259.76" width="11.79" height="2.20" fill="#c4b6f2"/>
<rect x="125.10" y="259.76" width="11.79" height="2.20" fill="#f2eef4"/>
<rect x="136.84" y="259.76" width="11.79" height="2.20" fill="#a08af0"/>
<rect x="148.58" y="259.76" width="11.79" height="2.20" fill="#f6765a"/>
<rect x="160.32" y="259.76" width="11.79" height="2.20" fill="#f8967c"/>
<rect x="172.06" y="259.76" width="11.79" height="2.20" fill="#f8967c"/>
<rect x="183.80" y="259.76" width="11.79" height="2.20" fill="#f8967c"/>
<rect x="66.40" y="261.90" width="11.79" height="2.20" fill="#866cee"/>
<rect x="78.14" y="261.90" width="11.79" height="2.20" fill="#a08af0"/>
<rect x="89.88" y="261.90" width="11.79" height="2.20" fill="#866cee"/>
<rect x="101.62" y="261.90" width="11.79" height="2.20" fill="#a08af0"/>
<rect x="113.36" y="261.90" width="11.79" height="2.20" fill="#d6ccf3"/>
<rect x="125.10" y="261.90" width="11.79" height="2.20" fill="#a08af0"/>
<rect x="136.84" y="261.90" width="11.79" height="2.20" fill="#fcd6c8"/>
<rect x="148.58" y="261.90" width="11.79" height="2.20" fill="#f8967c"/>
<rect x="160.32" y="261.90" width="11.79" height="2.20" fill="#f8967c"/>
<rect x="172.06" y="261.90" width="11.79" height="2.20" fill="#f8967c"/>
<rect x="183.80" y="261.90" width="11.79" height="2.20" fill="#f8967c"/>
<rect x="66.40" y="264.05" width="11.79" height="2.20" fill="#f2eef4"/>
<rect x="78.14" y="264.05" width="11.79" height="2.20" fill="#a08af0"/>
<rect x="89.88" y="264.05" width="11.79" height="2.20" fill="#fcd6c8"/>
<rect x="101.62" y="264.05" width="11.79" height="2.20" fill="#684cec"/>
<rect x="113.36" y="264.05" width="11.79" height="2.20" fill="#a08af0"/>
<rect x="125.10" y="264.05" width="11.79" height="2.20" fill="#866cee"/>
<rect x="136.84" y="264.05" width="11.79" height="2.20" fill="#fcd6c8"/>
<rect x="148.58" y="264.05" width="11.79" height="2.20" fill="#f8967c"/>
<rect x="160.32" y="264.05" width="11.79" height="2.20" fill="#f45236"/>
<rect x="172.06" y="264.05" width="11.79" height="2.20" fill="#f8967c"/>
<rect x="183.80" y="264.05" width="11.79" height="2.20" fill="#c4b6f2"/>
<rect x="66.40" y="266.20" width="11.79" height="2.20" fill="#c4b6f2"/>
<rect x="78.14" y="266.20" width="11.79" height="2.20" fill="#a08af0"/>
<rect x="89.88" y="266.20" width="11.79" height="2.20" fill="#a08af0"/>
<rect x="101.62" y="266.20" width="11.79" height="2.20" fill="#866cee"/>
<rect x="113.36" y="266.20" width="11.79" height="2.20" fill="#a08af0"/>
<rect x="125.10" y="266.20" width="11.79" height="2.20" fill="#a08af0"/>
<rect x="136.84" y="266.20" width="11.79" height="2.20" fill="#c4b6f2"/>
<rect x="148.58" y="266.20" width="11.79" height="2.20" fill="#f8967c"/>
<rect x="160.32" y="266.20" width="11.79" height="2.20" fill="#f6765a"/>
<rect x="172.06" y="266.20" width="11.79" height="2.20" fill="#f6765a"/>
<rect x="183.80" y="266.20" width="11.79" height="2.20" fill="#c4b6f2"/>
<rect x="66.40" y="268.34" width="11.79" height="2.20" fill="#a08af0"/>
<rect x="78.14" y="268.34" width="11.79" height="2.20" fill="#866cee"/>
<rect x="89.88" y="268.34" width="11.79" height="2.20" fill="#a08af0"/>
<rect x="101.62" y="268.34" width="11.79" height="2.20" fill="#a08af0"/>
<rect x="113.36" y="268.34" width="11.79" height="2.20" fill="#a08af0"/>
<rect x="125.10" y="268.34" width="11.79" height="2.20" fill="#a08af0"/>
<rect x="136.84" y="268.34" width="11.79" height="2.20" fill="#f8967c"/>
<rect x="148.58" y="268.34" width="11.79" height="2.20" fill="#f6765a"/>
<rect x="160.32" y="268.34" width="11.79" height="2.20" fill="#f8967c"/>
<rect x="172.06" y="268.34" width="11.79" height="2.20" fill="#f45236"/>
<rect x="183.80" y="268.34" width="11.79" height="2.20" fill="#fcd6c8"/>
<rect x="66.40" y="270.49" width="11.79" height="2.20" fill="#a08af0"/>
<rect x="78.14" y="270.49" width="11.79" height="2.20" fill="#c4b6f2"/>
<rect x="89.88" y="270.49" width="11.79" height="2.20" fill="#c4b6f2"/>
<rect x="101.62" y="270.49" width="11.79" height="2.20" fill="#866cee"/>
<rect x="113.36" y="270.49" width="11.79" height="2.20" fill="#684cec"/>
<rect x="125.10" y="270.49" width="11.79" height="2.20" fill="#c4b6f2"/>
<rect x="136.84" y="270.49" width="11.79" height="2.20" fill="#f8967c"/>
<rect x="148.58" y="270.49" width="11.79" height="2.20" fill="#f02a12"/>
<rect x="160.32" y="270.49" width="11.79" height="2.20" fill="#f8967c"/>
<rect x="172.06" y="270.49" width="11.79" height="2.20" fill="#866cee"/>
<rect x="183.80" y="270.49" width="11.79" height="2.20" fill="#f2eef4"/>
<rect x="66.40" y="272.64" width="11.79" height="2.20" fill="#f2eef4"/>
<rect x="78.14" y="272.64" width="11.79" height="2.20" fill="#a08af0"/>
<rect x="89.88" y="272.64" width="11.79" height="2.20" fill="#a08af0"/>
<rect x="101.62" y="272.64" width="11.79" height="2.20" fill="#f2eef4"/>
<rect x="113.36" y="272.64" width="11.79" height="2.20" fill="#a08af0"/>
<rect x="125.10" y="272.64" width="11.79" height="2.20" fill="#a08af0"/>
<rect x="136.84" y="272.64" width="11.79" height="2.20" fill="#c4b6f2"/>
<rect x="148.58" y="272.64" width="11.79" height="2.20" fill="#f02a12"/>
<rect x="160.32" y="272.64" width="11.79" height="2.20" fill="#fcd6c8"/>
<rect x="172.06" y="272.64" width="11.79" height="2.20" fill="#d6ccf3"/>
<rect x="183.80" y="272.64" width="11.79" height="2.20" fill="#c4b6f2"/>
<rect x="66.40" y="274.78" width="11.79" height="2.20" fill="#a08af0"/>
<rect x="78.14" y="274.78" width="11.79" height="2.20" fill="#a08af0"/>
<rect x="89.88" y="274.78" width="11.79" height="2.20" fill="#866cee"/>
<rect x="101.62" y="274.78" width="11.79" height="2.20" fill="#c4b6f2"/>
<rect x="113.36" y="274.78" width="11.79" height="2.20" fill="#a08af0"/>
<rect x="125.10" y="274.78" width="11.79" height="2.20" fill="#a08af0"/>
<rect x="136.84" y="274.78" width="11.79" height="2.20" fill="#fab4a0"/>
<rect x="148.58" y="274.78" width="11.79" height="2.20" fill="#f02a12"/>
<rect x="160.32" y="274.78" width="11.79" height="2.20" fill="#fab4a0"/>
<rect x="172.06" y="274.78" width="11.79" height="2.20" fill="#fab4a0"/>
<rect x="183.80" y="274.78" width="11.79" height="2.20" fill="#fcd6c8"/>
<rect x="66.40" y="276.93" width="11.79" height="2.20" fill="#866cee"/>
<rect x="78.14" y="276.93" width="11.79" height="2.20" fill="#a08af0"/>
<rect x="89.88" y="276.93" width="11.79" height="2.20" fill="#a08af0"/>
<rect x="101.62" y="276.93" width="11.79" height="2.20" fill="#a08af0"/>
<rect x="113.36" y="276.93" width="11.79" height="2.20" fill="#a08af0"/>
<rect x="125.10" y="276.93" width="11.79" height="2.20" fill="#c4b6f2"/>
<rect x="136.84" y="276.93" width="11.79" height="2.20" fill="#fab4a0"/>
<rect x="148.58" y="276.93" width="11.79" height="2.20" fill="#f45236"/>
<rect x="160.32" y="276.93" width="11.79" height="2.20" fill="#fab4a0"/>
<rect x="172.06" y="276.93" width="11.79" height="2.20" fill="#fcd6c8"/>
<rect x="183.80" y="276.93" width="11.79" height="2.20" fill="#fab4a0"/>
<rect x="66.40" y="279.08" width="11.79" height="2.20" fill="#c4b6f2"/>
<rect x="78.14" y="279.08" width="11.79" height="2.20" fill="#866cee"/>
<rect x="89.88" y="279.08" width="11.79" height="2.20" fill="#a08af0"/>
<rect x="101.62" y="279.08" width="11.79" height="2.20" fill="#a08af0"/>
<rect x="113.36" y="279.08" width="11.79" height="2.20" fill="#c4b6f2"/>
<rect x="125.10" y="279.08" width="11.79" height="2.20" fill="#866cee"/>
<rect x="136.84" y="279.08" width="11.79" height="2.20" fill="#f8e0da"/>
<rect x="148.58" y="279.08" width="11.79" height="2.20" fill="#f2eef4"/>
<rect x="160.32" y="279.08" width="11.79" height="2.20" fill="#f2eef4"/>
<rect x="172.06" y="279.08" width="11.79" height="2.20" fill="#fab4a0"/>
<rect x="183.80" y="279.08" width="11.79" height="2.20" fill="#f8967c"/>
<rect x="66.40" y="281.23" width="11.79" height="2.20" fill="#f8967c"/>
<rect x="78.14" y="281.23" width="11.79" height="2.20" fill="#684cec"/>
<rect x="89.88" y="281.23" width="11.79" height="2.20" fill="#a08af0"/>
<rect x="101.62" y="281.23" width="11.79" height="2.20" fill="#a08af0"/>
<rect x="113.36" y="281.23" width="11.79" height="2.20" fill="#c4b6f2"/>
<rect x="125.10" y="281.23" width="11.79" height="2.20" fill="#866cee"/>
<rect x="136.84" y="281.23" width="11.79" height="2.20" fill="#fab4a0"/>
<rect x="148.58" y="281.23" width="11.79" height="2.20" fill="#f8967c"/>
<rect x="160.32" y="281.23" width="11.79" height="2.20" fill="#fab4a0"/>
<rect x="172.06" y="281.23" width="11.79" height="2.20" fill="#f8967c"/>
<rect x="183.80" y="281.23" width="11.79" height="2.20" fill="#f8967c"/>
<rect x="66.40" y="283.37" width="11.79" height="2.20" fill="#f6765a"/>
<rect x="78.14" y="283.37" width="11.79" height="2.20" fill="#866cee"/>
<rect x="89.88" y="283.37" width="11.79" height="2.20" fill="#a08af0"/>
<rect x="101.62" y="283.37" width="11.79" height="2.20" fill="#684cec"/>
<rect x="113.36" y="283.37" width="11.79" height="2.20" fill="#c4b6f2"/>
<rect x="125.10" y="283.37" width="11.79" height="2.20" fill="#c4b6f2"/>
<rect x="136.84" y="283.37" width="11.79" height="2.20" fill="#f6765a"/>
<rect x="148.58" y="283.37" width="11.79" height="2.20" fill="#fab4a0"/>
<rect x="160.32" y="283.37" width="11.79" height="2.20" fill="#c4b6f2"/>
<rect x="172.06" y="283.37" width="11.79" height="2.20" fill="#fab4a0"/>
<rect x="183.80" y="283.37" width="11.79" height="2.20" fill="#f6765a"/>
<rect x="66.40" y="285.52" width="11.79" height="2.20" fill="#a08af0"/>
<rect x="78.14" y="285.52" width="11.79" height="2.20" fill="#a08af0"/>
<rect x="89.88" y="285.52" width="11.79" height="2.20" fill="#c4b6f2"/>
<rect x="101.62" y="285.52" width="11.79" height="2.20" fill="#c4b6f2"/>
<rect x="113.36" y="285.52" width="11.79" height="2.20" fill="#f2eef4"/>
<rect x="125.10" y="285.52" width="11.79" height="2.20" fill="#c4b6f2"/>
<rect x="136.84" y="285.52" width="11.79" height="2.20" fill="#f02a12"/>
<rect x="148.58" y="285.52" width="11.79" height="2.20" fill="#fab4a0"/>
<rect x="160.32" y="285.52" width="11.79" height="2.20" fill="#c4b6f2"/>
<rect x="172.06" y="285.52" width="11.79" height="2.20" fill="#fab4a0"/>
<rect x="183.80" y="285.52" width="11.79" height="2.20" fill="#f8e0da"/>
<rect x="66.40" y="287.67" width="11.79" height="2.20" fill="#c4b6f2"/>
<rect x="78.14" y="287.67" width="11.79" height="2.20" fill="#a08af0"/>
<rect x="89.88" y="287.67" width="11.79" height="2.20" fill="#a08af0"/>
<rect x="101.62" y="287.67" width="11.79" height="2.20" fill="#c4b6f2"/>
<rect x="113.36" y="287.67" width="11.79" height="2.20" fill="#a08af0"/>
<rect x="125.10" y="287.67" width="11.79" height="2.20" fill="#fab4a0"/>
<rect x="136.84" y="287.67" width="11.79" height="2.20" fill="#f45236"/>
<rect x="148.58" y="287.67" width="11.79" height="2.20" fill="#c4b6f2"/>
<rect x="160.32" y="287.67" width="11.79" height="2.20" fill="#f6765a"/>
<rect x="172.06" y="287.67" width="11.79" height="2.20" fill="#f6765a"/>
<rect x="183.80" y="287.67" width="11.79" height="2.20" fill="#d6ccf3"/>
<rect x="66.40" y="289.81" width="11.79" height="2.20" fill="#684cec"/>
<rect x="78.14" y="289.81" width="11.79" height="2.20" fill="#a08af0"/>
<rect x="89.88" y="289.81" width="11.79" height="2.20" fill="#a08af0"/>
<rect x="101.62" y="289.81" width="11.79" height="2.20" fill="#a08af0"/>
<rect x="113.36" y="289.81" width="11.79" height="2.20" fill="#c4b6f2"/>
<rect x="125.10" y="289.81" width="11.79" height="2.20" fill="#fab4a0"/>
<rect x="136.84" y="289.81" width="11.79" height="2.20" fill="#f2eef4"/>
<rect x="148.58" y="289.81" width="11.79" height="2.20" fill="#fab4a0"/>
<rect x="160.32" y="289.81" width="11.79" height="2.20" fill="#f6765a"/>
<rect x="172.06" y="289.81" width="11.79" height="2.20" fill="#f45236"/>
<rect x="183.80" y="289.81" width="11.79" height="2.20" fill="#c4b6f2"/>
<rect x="66.40" y="291.96" width="11.79" height="2.20" fill="#684cec"/>
<rect x="78.14" y="291.96" width="11.79" height="2.20" fill="#a08af0"/>
<rect x="89.88" y="291.96" width="11.79" height="2.20" fill="#a08af0"/>
<rect x="101.62" y="291.96" width="11.79" height="2.20" fill="#c4b6f2"/>
<rect x="113.36" y="291.96" width="11.79" height="2.20" fill="#c4b6f2"/>
<rect x="125.10" y="291.96" width="11.79" height="2.20" fill="#fab4a0"/>
<rect x="136.84" y="291.96" width="11.79" height="2.20" fill="#f8e0da"/>
<rect x="148.58" y="291.96" width="11.79" height="2.20" fill="#f8967c"/>
<rect x="160.32" y="291.96" width="11.79" height="2.20" fill="#f6765a"/>
<rect x="172.06" y="291.96" width="11.79" height="2.20" fill="#f45236"/>
<rect x="183.80" y="291.96" width="11.79" height="2.20" fill="#c4b6f2"/>
<rect x="66.40" y="294.11" width="11.79" height="2.20" fill="#684cec"/>
<rect x="78.14" y="294.11" width="11.79" height="2.20" fill="#c4b6f2"/>
<rect x="89.88" y="294.11" width="11.79" height="2.20" fill="#a08af0"/>
<rect x="101.62" y="294.11" width="11.79" height="2.20" fill="#a08af0"/>
<rect x="113.36" y="294.11" width="11.79" height="2.20" fill="#d6ccf3"/>
<rect x="125.10" y="294.11" width="11.79" height="2.20" fill="#fcd6c8"/>
<rect x="136.84" y="294.11" width="11.79" height="2.20" fill="#d6ccf3"/>
<rect x="148.58" y="294.11" width="11.79" height="2.20" fill="#f8967c"/>
<rect x="160.32" y="294.11" width="11.79" height="2.20" fill="#f6765a"/>
<rect x="172.06" y="294.11" width="11.79" height="2.20" fill="#f6765a"/>
<rect x="183.80" y="294.11" width="11.79" height="2.20" fill="#f2eef4"/>
<rect x="66.40" y="296.25" width="11.79" height="2.20" fill="#2010ee"/>
<rect x="78.14" y="296.25" width="11.79" height="2.20" fill="#a08af0"/>
<rect x="89.88" y="296.25" width="11.79" height="2.20" fill="#866cee"/>
<rect x="101.62" y="296.25" width="11.79" height="2.20" fill="#c4b6f2"/>
<rect x="113.36" y="296.25" width="11.79" height="2.20" fill="#f2eef4"/>
<rect x="125.10" y="296.25" width="11.79" height="2.20" fill="#f8967c"/>
<rect x="136.84" y="296.25" width="11.79" height="2.20" fill="#fab4a0"/>
<rect x="148.58" y="296.25" width="11.79" height="2.20" fill="#fab4a0"/>
<rect x="160.32" y="296.25" width="11.79" height="2.20" fill="#f8967c"/>
<rect x="172.06" y="296.25" width="11.79" height="2.20" fill="#f6765a"/>
<rect x="183.80" y="296.25" width="11.79" height="2.20" fill="#fcd6c8"/>
<rect x="66.40" y="298.40" width="11.79" height="2.20" fill="#a08af0"/>
<rect x="78.14" y="298.40" width="11.79" height="2.20" fill="#684cec"/>
<rect x="89.88" y="298.40" width="11.79" height="2.20" fill="#a08af0"/>
<rect x="101.62" y="298.40" width="11.79" height="2.20" fill="#c4b6f2"/>
<rect x="113.36" y="298.40" width="11.79" height="2.20" fill="#fab4a0"/>
<rect x="125.10" y="298.40" width="11.79" height="2.20" fill="#fab4a0"/>
<rect x="136.84" y="298.40" width="11.79" height="2.20" fill="#fab4a0"/>
<rect x="148.58" y="298.40" width="11.79" height="2.20" fill="#f8967c"/>
<rect x="160.32" y="298.40" width="11.79" height="2.20" fill="#fab4a0"/>
<rect x="172.06" y="298.40" width="11.79" height="2.20" fill="#f6765a"/>
<rect x="183.80" y="298.40" width="11.79" height="2.20" fill="#c4b6f2"/>
<rect x="66.40" y="300.55" width="11.79" height="2.20" fill="#866cee"/>
<rect x="78.14" y="300.55" width="11.79" height="2.20" fill="#684cec"/>
<rect x="89.88" y="300.55" width="11.79" height="2.20" fill="#f2eef4"/>
<rect x="101.62" y="300.55" width="11.79" height="2.20" fill="#a08af0"/>
<rect x="113.36" y="300.55" width="11.79" height="2.20" fill="#fab4a0"/>
<rect x="125.10" y="300.55" width="11.79" height="2.20" fill="#a08af0"/>
<rect x="136.84" y="300.55" width="11.79" height="2.20" fill="#f8967c"/>
<rect x="148.58" y="300.55" width="11.79" height="2.20" fill="#f6765a"/>
<rect x="160.32" y="300.55" width="11.79" height="2.20" fill="#a08af0"/>
<rect x="172.06" y="300.55" width="11.79" height="2.20" fill="#f6765a"/>
<rect x="183.80" y="300.55" width="11.79" height="2.20" fill="#f8967c"/>
<rect x="66.40" y="302.70" width="11.79" height="2.20" fill="#684cec"/>
<rect x="78.14" y="302.70" width="11.79" height="2.20" fill="#684cec"/>
<rect x="89.88" y="302.70" width="11.79" height="2.20" fill="#a08af0"/>
<rect x="101.62" y="302.70" width="11.79" height="2.20" fill="#a08af0"/>
<rect x="113.36" y="302.70" width="11.79" height="2.20" fill="#f8e0da"/>
<rect x="125.10" y="302.70" width="11.79" height="2.20" fill="#c4b6f2"/>
<rect x="136.84" y="302.70" width="11.79" height="2.20" fill="#fab4a0"/>
<rect x="148.58" y="302.70" width="11.79" height="2.20" fill="#fab4a0"/>
<rect x="160.32" y="302.70" width="11.79" height="2.20" fill="#f2eef4"/>
<rect x="172.06" y="302.70" width="11.79" height="2.20" fill="#f8967c"/>
<rect x="183.80" y="302.70" width="11.79" height="2.20" fill="#f6765a"/>
<rect x="66.40" y="304.84" width="11.79" height="2.20" fill="#866cee"/>
<rect x="78.14" y="304.84" width="11.79" height="2.20" fill="#684cec"/>
<rect x="89.88" y="304.84" width="11.79" height="2.20" fill="#a08af0"/>
<rect x="101.62" y="304.84" width="11.79" height="2.20" fill="#a08af0"/>
<rect x="113.36" y="304.84" width="11.79" height="2.20" fill="#c4b6f2"/>
<rect x="125.10" y="304.84" width="11.79" height="2.20" fill="#c4b6f2"/>
<rect x="136.84" y="304.84" width="11.79" height="2.20" fill="#f6765a"/>
<rect x="148.58" y="304.84" width="11.79" height="2.20" fill="#fab4a0"/>
<rect x="160.32" y="304.84" width="11.79" height="2.20" fill="#fab4a0"/>
<rect x="172.06" y="304.84" width="11.79" height="2.20" fill="#f6765a"/>
<rect x="183.80" y="304.84" width="11.79" height="2.20" fill="#f6765a"/>
<rect x="66.40" y="306.99" width="11.79" height="2.20" fill="#a08af0"/>
<rect x="78.14" y="306.99" width="11.79" height="2.20" fill="#866cee"/>
<rect x="89.88" y="306.99" width="11.79" height="2.20" fill="#866cee"/>
<rect x="101.62" y="306.99" width="11.79" height="2.20" fill="#a08af0"/>
<rect x="113.36" y="306.99" width="11.79" height="2.20" fill="#c4b6f2"/>
<rect x="125.10" y="306.99" width="11.79" height="2.20" fill="#a08af0"/>
<rect x="136.84" y="306.99" width="11.79" height="2.20" fill="#f8967c"/>
<rect x="148.58" y="306.99" width="11.79" height="2.20" fill="#fab4a0"/>
<rect x="160.32" y="306.99" width="11.79" height="2.20" fill="#fcd6c8"/>
<rect x="172.06" y="306.99" width="11.79" height="2.20" fill="#f45236"/>
<rect x="183.80" y="306.99" width="11.79" height="2.20" fill="#f8967c"/>
<rect x="66.40" y="309.14" width="11.79" height="2.20" fill="#c4b6f2"/>
<rect x="78.14" y="309.14" width="11.79" height="2.20" fill="#a08af0"/>
<rect x="89.88" y="309.14" width="11.79" height="2.20" fill="#a08af0"/>
<rect x="101.62" y="309.14" width="11.79" height="2.20" fill="#684cec"/>
<rect x="113.36" y="309.14" width="11.79" height="2.20" fill="#c4b6f2"/>
<rect x="125.10" y="309.14" width="11.79" height="2.20" fill="#a08af0"/>
<rect x="136.84" y="309.14" width="11.79" height="2.20" fill="#f6765a"/>
<rect x="148.58" y="309.14" width="11.79" height="2.20" fill="#f8967c"/>
<rect x="160.32" y="309.14" width="11.79" height="2.20" fill="#fab4a0"/>
<rect x="172.06" y="309.14" width="11.79" height="2.20" fill="#f8967c"/>
<rect x="183.80" y="309.14" width="11.79" height="2.20" fill="#f45236"/>
<rect x="66.40" y="311.28" width="11.79" height="2.20" fill="#c4b6f2"/>
<rect x="78.14" y="311.28" width="11.79" height="2.20" fill="#a08af0"/>
<rect x="89.88" y="311.28" width="11.79" height="2.20" fill="#f2eef4"/>
<rect x="101.62" y="311.28" width="11.79" height="2.20" fill="#866cee"/>
<rect x="113.36" y="311.28" width="11.79" height="2.20" fill="#c4b6f2"/>
<rect x="125.10" y="311.28" width="11.79" height="2.20" fill="#866cee"/>
<rect x="136.84" y="311.28" width="11.79" height="2.20" fill="#f8967c"/>
<rect x="148.58" y="311.28" width="11.79" height="2.20" fill="#c4b6f2"/>
<rect x="160.32" y="311.28" width="11.79" height="2.20" fill="#a08af0"/>
<rect x="172.06" y="311.28" width="11.79" height="2.20" fill="#f6765a"/>
<rect x="183.80" y="311.28" width="11.79" height="2.20" fill="#f02a12"/>
<rect x="66.40" y="313.43" width="11.79" height="2.20" fill="#a08af0"/>
<rect x="78.14" y="313.43" width="11.79" height="2.20" fill="#c4b6f2"/>
<rect x="89.88" y="313.43" width="11.79" height="2.20" fill="#a08af0"/>
<rect x="101.62" y="313.43" width="11.79" height="2.20" fill="#a08af0"/>
<rect x="113.36" y="313.43" width="11.79" height="2.20" fill="#d6ccf3"/>
<rect x="125.10" y="313.43" width="11.79" height="2.20" fill="#866cee"/>
<rect x="136.84" y="313.43" width="11.79" height="2.20" fill="#f6765a"/>
<rect x="148.58" y="313.43" width="11.79" height="2.20" fill="#f6765a"/>
<rect x="160.32" y="313.43" width="11.79" height="2.20" fill="#c4b6f2"/>
<rect x="172.06" y="313.43" width="11.79" height="2.20" fill="#f8e0da"/>
<rect x="183.80" y="313.43" width="11.79" height="2.20" fill="#f6765a"/>
<rect x="66.40" y="315.58" width="11.79" height="2.20" fill="#2010ee"/>
<rect x="78.14" y="315.58" width="11.79" height="2.20" fill="#d6ccf3"/>
<rect x="89.88" y="315.58" width="11.79" height="2.20" fill="#c4b6f2"/>
<rect x="101.62" y="315.58" width="11.79" height="2.20" fill="#f2eef4"/>
<rect x="113.36" y="315.58" width="11.79" height="2.20" fill="#a08af0"/>
<rect x="125.10" y="315.58" width="11.79" height="2.20" fill="#866cee"/>
<rect x="136.84" y="315.58" width="11.79" height="2.20" fill="#f8967c"/>
<rect x="148.58" y="315.58" width="11.79" height="2.20" fill="#f8967c"/>
<rect x="160.32" y="315.58" width="11.79" height="2.20" fill="#c4b6f2"/>
<rect x="172.06" y="315.58" width="11.79" height="2.20" fill="#f8967c"/>
<rect x="183.80" y="315.58" width="11.79" height="2.20" fill="#f6765a"/>
<rect x="66.40" y="317.72" width="11.79" height="2.20" fill="#c4b6f2"/>
<rect x="78.14" y="317.72" width="11.79" height="2.20" fill="#c4b6f2"/>
<rect x="89.88" y="317.72" width="11.79" height="2.20" fill="#a08af0"/>
<rect x="101.62" y="317.72" width="11.79" height="2.20" fill="#a08af0"/>
<rect x="113.36" y="317.72" width="11.79" height="2.20" fill="#866cee"/>
<rect x="125.10" y="317.72" width="11.79" height="2.20" fill="#2010ee"/>
<rect x="136.84" y="317.72" width="11.79" height="2.20" fill="#f45236"/>
<rect x="148.58" y="317.72" width="11.79" height="2.20" fill="#f2eef4"/>
<rect x="160.32" y="317.72" width="11.79" height="2.20" fill="#fab4a0"/>
<rect x="172.06" y="317.72" width="11.79" height="2.20" fill="#f8967c"/>
<rect x="183.80" y="317.72" width="11.79" height="2.20" fill="#f8967c"/>
<rect x="66.40" y="319.87" width="11.79" height="2.20" fill="#f2eef4"/>
<rect x="78.14" y="319.87" width="11.79" height="2.20" fill="#c4b6f2"/>
<rect x="89.88" y="319.87" width="11.79" height="2.20" fill="#c4b6f2"/>
<rect x="101.62" y="319.87" width="11.79" height="2.20" fill="#c4b6f2"/>
<rect x="113.36" y="319.87" width="11.79" height="2.20" fill="#c4b6f2"/>
<rect x="125.10" y="319.87" width="11.79" height="2.20" fill="#482eec"/>
<rect x="136.84" y="319.87" width="11.79" height="2.20" fill="#f45236"/>
<rect x="148.58" y="319.87" width="11.79" height="2.20" fill="#c4b6f2"/>
<rect x="160.32" y="319.87" width="11.79" height="2.20" fill="#fab4a0"/>
<rect x="172.06" y="319.87" width="11.79" height="2.20" fill="#fab4a0"/>
<rect x="183.80" y="319.87" width="11.79" height="2.20" fill="#fab4a0"/>
<rect x="66.40" y="322.02" width="11.79" height="2.20" fill="#482eec"/>
<rect x="78.14" y="322.02" width="11.79" height="2.20" fill="#f8e0da"/>
<rect x="89.88" y="322.02" width="11.79" height="2.20" fill="#c4b6f2"/>
<rect x="101.62" y="322.02" width="11.79" height="2.20" fill="#fab4a0"/>
<rect x="113.36" y="322.02" width="11.79" height="2.20" fill="#a08af0"/>
<rect x="125.10" y="322.02" width="11.79" height="2.20" fill="#a08af0"/>
<rect x="136.84" y="322.02" width="11.79" height="2.20" fill="#f6765a"/>
<rect x="148.58" y="322.02" width="11.79" height="2.20" fill="#c4b6f2"/>
<rect x="160.32" y="322.02" width="11.79" height="2.20" fill="#f8967c"/>
<rect x="172.06" y="322.02" width="11.79" height="2.20" fill="#fab4a0"/>
<rect x="183.80" y="322.02" width="11.79" height="2.20" fill="#f8e0da"/>
<rect x="66.40" y="324.87" width="70.44" height="4.6" fill="#8a9ed0"/>
<rect x="136.84" y="324.87" width="58.70" height="4.6" fill="#5cb896"/>
<rect x="286.90" y="168.20" width="9.05" height="2.79" fill="#f8967c"/>
<rect x="295.90" y="168.20" width="9.05" height="2.79" fill="#fab4a0"/>
<rect x="304.90" y="168.20" width="9.05" height="2.79" fill="#f8967c"/>
<rect x="313.90" y="168.20" width="9.05" height="2.79" fill="#f8967c"/>
<rect x="322.90" y="168.20" width="9.05" height="2.79" fill="#f8967c"/>
<rect x="331.90" y="168.20" width="9.05" height="2.79" fill="#a08af0"/>
<rect x="340.90" y="168.20" width="9.05" height="2.79" fill="#fab4a0"/>
<rect x="349.90" y="168.20" width="9.05" height="2.79" fill="#2010ee"/>
<rect x="358.90" y="168.20" width="9.05" height="2.79" fill="#a08af0"/>
<rect x="367.90" y="168.20" width="9.05" height="2.79" fill="#c4b6f2"/>
<rect x="376.90" y="168.20" width="9.05" height="2.79" fill="#fcd6c8"/>
<rect x="385.90" y="168.20" width="9.05" height="2.79" fill="#f8e0da"/>
<rect x="394.90" y="168.20" width="9.05" height="2.79" fill="#fab4a0"/>
<rect x="403.90" y="168.20" width="9.05" height="2.79" fill="#2010ee"/>
<rect x="412.90" y="168.20" width="9.05" height="2.79" fill="#fab4a0"/>
<rect x="421.90" y="168.20" width="9.05" height="2.79" fill="#fab4a0"/>
<rect x="430.90" y="168.20" width="9.05" height="2.79" fill="#a08af0"/>
<rect x="286.90" y="170.94" width="9.05" height="2.79" fill="#fab4a0"/>
<rect x="295.90" y="170.94" width="9.05" height="2.79" fill="#f2eef4"/>
<rect x="304.90" y="170.94" width="9.05" height="2.79" fill="#fcd6c8"/>
<rect x="313.90" y="170.94" width="9.05" height="2.79" fill="#f8967c"/>
<rect x="322.90" y="170.94" width="9.05" height="2.79" fill="#f02a12"/>
<rect x="331.90" y="170.94" width="9.05" height="2.79" fill="#fab4a0"/>
<rect x="340.90" y="170.94" width="9.05" height="2.79" fill="#f2eef4"/>
<rect x="349.90" y="170.94" width="9.05" height="2.79" fill="#c4b6f2"/>
<rect x="358.90" y="170.94" width="9.05" height="2.79" fill="#fcd6c8"/>
<rect x="367.90" y="170.94" width="9.05" height="2.79" fill="#866cee"/>
<rect x="376.90" y="170.94" width="9.05" height="2.79" fill="#2010ee"/>
<rect x="385.90" y="170.94" width="9.05" height="2.79" fill="#fcd6c8"/>
<rect x="394.90" y="170.94" width="9.05" height="2.79" fill="#482eec"/>
<rect x="403.90" y="170.94" width="9.05" height="2.79" fill="#f2eef4"/>
<rect x="412.90" y="170.94" width="9.05" height="2.79" fill="#fab4a0"/>
<rect x="421.90" y="170.94" width="9.05" height="2.79" fill="#c4b6f2"/>
<rect x="430.90" y="170.94" width="9.05" height="2.79" fill="#fab4a0"/>
<rect x="286.90" y="173.68" width="9.05" height="2.79" fill="#fab4a0"/>
<rect x="295.90" y="173.68" width="9.05" height="2.79" fill="#fcd6c8"/>
<rect x="304.90" y="173.68" width="9.05" height="2.79" fill="#f8967c"/>
<rect x="313.90" y="173.68" width="9.05" height="2.79" fill="#a08af0"/>
<rect x="322.90" y="173.68" width="9.05" height="2.79" fill="#f02a12"/>
<rect x="331.90" y="173.68" width="9.05" height="2.79" fill="#f6765a"/>
<rect x="340.90" y="173.68" width="9.05" height="2.79" fill="#a08af0"/>
<rect x="349.90" y="173.68" width="9.05" height="2.79" fill="#a08af0"/>
<rect x="358.90" y="173.68" width="9.05" height="2.79" fill="#a08af0"/>
<rect x="367.90" y="173.68" width="9.05" height="2.79" fill="#866cee"/>
<rect x="376.90" y="173.68" width="9.05" height="2.79" fill="#f2eef4"/>
<rect x="385.90" y="173.68" width="9.05" height="2.79" fill="#fcd6c8"/>
<rect x="394.90" y="173.68" width="9.05" height="2.79" fill="#a08af0"/>
<rect x="403.90" y="173.68" width="9.05" height="2.79" fill="#c4b6f2"/>
<rect x="412.90" y="173.68" width="9.05" height="2.79" fill="#c4b6f2"/>
<rect x="421.90" y="173.68" width="9.05" height="2.79" fill="#c4b6f2"/>
<rect x="430.90" y="173.68" width="9.05" height="2.79" fill="#f2eef4"/>
<rect x="286.90" y="176.43" width="9.05" height="2.79" fill="#fcd6c8"/>
<rect x="295.90" y="176.43" width="9.05" height="2.79" fill="#fcd6c8"/>
<rect x="304.90" y="176.43" width="9.05" height="2.79" fill="#f8967c"/>
<rect x="313.90" y="176.43" width="9.05" height="2.79" fill="#fcd6c8"/>
<rect x="322.90" y="176.43" width="9.05" height="2.79" fill="#f45236"/>
<rect x="331.90" y="176.43" width="9.05" height="2.79" fill="#f2eef4"/>
<rect x="340.90" y="176.43" width="9.05" height="2.79" fill="#fab4a0"/>
<rect x="349.90" y="176.43" width="9.05" height="2.79" fill="#482eec"/>
<rect x="358.90" y="176.43" width="9.05" height="2.79" fill="#a08af0"/>
<rect x="367.90" y="176.43" width="9.05" height="2.79" fill="#684cec"/>
<rect x="376.90" y="176.43" width="9.05" height="2.79" fill="#fcd6c8"/>
<rect x="385.90" y="176.43" width="9.05" height="2.79" fill="#c4b6f2"/>
<rect x="394.90" y="176.43" width="9.05" height="2.79" fill="#f2eef4"/>
<rect x="403.90" y="176.43" width="9.05" height="2.79" fill="#fab4a0"/>
<rect x="412.90" y="176.43" width="9.05" height="2.79" fill="#f2eef4"/>
<rect x="421.90" y="176.43" width="9.05" height="2.79" fill="#a08af0"/>
<rect x="430.90" y="176.43" width="9.05" height="2.79" fill="#f6765a"/>
<rect x="286.90" y="179.17" width="9.05" height="2.79" fill="#fab4a0"/>
<rect x="295.90" y="179.17" width="9.05" height="2.79" fill="#fab4a0"/>
<rect x="304.90" y="179.17" width="9.05" height="2.79" fill="#c4b6f2"/>
<rect x="313.90" y="179.17" width="9.05" height="2.79" fill="#fab4a0"/>
<rect x="322.90" y="179.17" width="9.05" height="2.79" fill="#f02a12"/>
<rect x="331.90" y="179.17" width="9.05" height="2.79" fill="#f6765a"/>
<rect x="340.90" y="179.17" width="9.05" height="2.79" fill="#f8967c"/>
<rect x="349.90" y="179.17" width="9.05" height="2.79" fill="#684cec"/>
<rect x="358.90" y="179.17" width="9.05" height="2.79" fill="#c4b6f2"/>
<rect x="367.90" y="179.17" width="9.05" height="2.79" fill="#684cec"/>
<rect x="376.90" y="179.17" width="9.05" height="2.79" fill="#f2eef4"/>
<rect x="385.90" y="179.17" width="9.05" height="2.79" fill="#c4b6f2"/>
<rect x="394.90" y="179.17" width="9.05" height="2.79" fill="#c4b6f2"/>
<rect x="403.90" y="179.17" width="9.05" height="2.79" fill="#fcd6c8"/>
<rect x="412.90" y="179.17" width="9.05" height="2.79" fill="#fcd6c8"/>
<rect x="421.90" y="179.17" width="9.05" height="2.79" fill="#a08af0"/>
<rect x="430.90" y="179.17" width="9.05" height="2.79" fill="#a08af0"/>
<rect x="286.90" y="181.91" width="9.05" height="2.79" fill="#fab4a0"/>
<rect x="295.90" y="181.91" width="9.05" height="2.79" fill="#f8967c"/>
<rect x="304.90" y="181.91" width="9.05" height="2.79" fill="#fab4a0"/>
<rect x="313.90" y="181.91" width="9.05" height="2.79" fill="#a08af0"/>
<rect x="322.90" y="181.91" width="9.05" height="2.79" fill="#f02a12"/>
<rect x="331.90" y="181.91" width="9.05" height="2.79" fill="#fab4a0"/>
<rect x="340.90" y="181.91" width="9.05" height="2.79" fill="#f8967c"/>
<rect x="349.90" y="181.91" width="9.05" height="2.79" fill="#684cec"/>
<rect x="358.90" y="181.91" width="9.05" height="2.79" fill="#c4b6f2"/>
<rect x="367.90" y="181.91" width="9.05" height="2.79" fill="#2010ee"/>
<rect x="376.90" y="181.91" width="9.05" height="2.79" fill="#fab4a0"/>
<rect x="385.90" y="181.91" width="9.05" height="2.79" fill="#f2eef4"/>
<rect x="394.90" y="181.91" width="9.05" height="2.79" fill="#fcd6c8"/>
<rect x="403.90" y="181.91" width="9.05" height="2.79" fill="#c4b6f2"/>
<rect x="412.90" y="181.91" width="9.05" height="2.79" fill="#d6ccf3"/>
<rect x="421.90" y="181.91" width="9.05" height="2.79" fill="#c4b6f2"/>
<rect x="430.90" y="181.91" width="9.05" height="2.79" fill="#c4b6f2"/>
<rect x="286.90" y="184.65" width="9.05" height="2.79" fill="#a08af0"/>
<rect x="295.90" y="184.65" width="9.05" height="2.79" fill="#a08af0"/>
<rect x="304.90" y="184.65" width="9.05" height="2.79" fill="#684cec"/>
<rect x="313.90" y="184.65" width="9.05" height="2.79" fill="#a08af0"/>
<rect x="322.90" y="184.65" width="9.05" height="2.79" fill="#684cec"/>
<rect x="331.90" y="184.65" width="9.05" height="2.79" fill="#fab4a0"/>
<rect x="340.90" y="184.65" width="9.05" height="2.79" fill="#f2eef4"/>
<rect x="349.90" y="184.65" width="9.05" height="2.79" fill="#a08af0"/>
<rect x="358.90" y="184.65" width="9.05" height="2.79" fill="#fab4a0"/>
<rect x="367.90" y="184.65" width="9.05" height="2.79" fill="#f8e0da"/>
<rect x="376.90" y="184.65" width="9.05" height="2.79" fill="#c4b6f2"/>
<rect x="385.90" y="184.65" width="9.05" height="2.79" fill="#f8967c"/>
<rect x="394.90" y="184.65" width="9.05" height="2.79" fill="#c4b6f2"/>
<rect x="403.90" y="184.65" width="9.05" height="2.79" fill="#f45236"/>
<rect x="412.90" y="184.65" width="9.05" height="2.79" fill="#f8967c"/>
<rect x="421.90" y="184.65" width="9.05" height="2.79" fill="#fab4a0"/>
<rect x="430.90" y="184.65" width="9.05" height="2.79" fill="#fab4a0"/>
<rect x="286.90" y="187.39" width="9.05" height="2.79" fill="#684cec"/>
<rect x="295.90" y="187.39" width="9.05" height="2.79" fill="#684cec"/>
<rect x="304.90" y="187.39" width="9.05" height="2.79" fill="#866cee"/>
<rect x="313.90" y="187.39" width="9.05" height="2.79" fill="#a08af0"/>
<rect x="322.90" y="187.39" width="9.05" height="2.79" fill="#a08af0"/>
<rect x="331.90" y="187.39" width="9.05" height="2.79" fill="#fcd6c8"/>
<rect x="340.90" y="187.39" width="9.05" height="2.79" fill="#c4b6f2"/>
<rect x="349.90" y="187.39" width="9.05" height="2.79" fill="#a08af0"/>
<rect x="358.90" y="187.39" width="9.05" height="2.79" fill="#f6765a"/>
<rect x="367.90" y="187.39" width="9.05" height="2.79" fill="#fcd6c8"/>
<rect x="376.90" y="187.39" width="9.05" height="2.79" fill="#c4b6f2"/>
<rect x="385.90" y="187.39" width="9.05" height="2.79" fill="#fab4a0"/>
<rect x="394.90" y="187.39" width="9.05" height="2.79" fill="#fab4a0"/>
<rect x="403.90" y="187.39" width="9.05" height="2.79" fill="#f8967c"/>
<rect x="412.90" y="187.39" width="9.05" height="2.79" fill="#fab4a0"/>
<rect x="421.90" y="187.39" width="9.05" height="2.79" fill="#fab4a0"/>
<rect x="430.90" y="187.39" width="9.05" height="2.79" fill="#f6765a"/>
<rect x="286.90" y="190.14" width="9.05" height="2.79" fill="#482eec"/>
<rect x="295.90" y="190.14" width="9.05" height="2.79" fill="#a08af0"/>
<rect x="304.90" y="190.14" width="9.05" height="2.79" fill="#a08af0"/>
<rect x="313.90" y="190.14" width="9.05" height="2.79" fill="#a08af0"/>
<rect x="322.90" y="190.14" width="9.05" height="2.79" fill="#a08af0"/>
<rect x="331.90" y="190.14" width="9.05" height="2.79" fill="#fab4a0"/>
<rect x="340.90" y="190.14" width="9.05" height="2.79" fill="#c4b6f2"/>
<rect x="349.90" y="190.14" width="9.05" height="2.79" fill="#866cee"/>
<rect x="358.90" y="190.14" width="9.05" height="2.79" fill="#fcd6c8"/>
<rect x="367.90" y="190.14" width="9.05" height="2.79" fill="#fcd6c8"/>
<rect x="376.90" y="190.14" width="9.05" height="2.79" fill="#fab4a0"/>
<rect x="385.90" y="190.14" width="9.05" height="2.79" fill="#fab4a0"/>
<rect x="394.90" y="190.14" width="9.05" height="2.79" fill="#f6765a"/>
<rect x="403.90" y="190.14" width="9.05" height="2.79" fill="#f8967c"/>
<rect x="412.90" y="190.14" width="9.05" height="2.79" fill="#f8967c"/>
<rect x="421.90" y="190.14" width="9.05" height="2.79" fill="#f8967c"/>
<rect x="430.90" y="190.14" width="9.05" height="2.79" fill="#f8967c"/>
<rect x="286.90" y="192.88" width="9.05" height="2.79" fill="#a08af0"/>
<rect x="295.90" y="192.88" width="9.05" height="2.79" fill="#c4b6f2"/>
<rect x="304.90" y="192.88" width="9.05" height="2.79" fill="#684cec"/>
<rect x="313.90" y="192.88" width="9.05" height="2.79" fill="#866cee"/>
<rect x="322.90" y="192.88" width="9.05" height="2.79" fill="#a08af0"/>
<rect x="331.90" y="192.88" width="9.05" height="2.79" fill="#fab4a0"/>
<rect x="340.90" y="192.88" width="9.05" height="2.79" fill="#866cee"/>
<rect x="349.90" y="192.88" width="9.05" height="2.79" fill="#a08af0"/>
<rect x="358.90" y="192.88" width="9.05" height="2.79" fill="#fcd6c8"/>
<rect x="367.90" y="192.88" width="9.05" height="2.79" fill="#f02a12"/>
<rect x="376.90" y="192.88" width="9.05" height="2.79" fill="#f2eef4"/>
<rect x="385.90" y="192.88" width="9.05" height="2.79" fill="#fab4a0"/>
<rect x="394.90" y="192.88" width="9.05" height="2.79" fill="#f6765a"/>
<rect x="403.90" y="192.88" width="9.05" height="2.79" fill="#c4b6f2"/>
<rect x="412.90" y="192.88" width="9.05" height="2.79" fill="#fab4a0"/>
<rect x="421.90" y="192.88" width="9.05" height="2.79" fill="#fab4a0"/>
<rect x="430.90" y="192.88" width="9.05" height="2.79" fill="#fab4a0"/>
<rect x="286.90" y="195.62" width="9.05" height="2.79" fill="#c4b6f2"/>
<rect x="295.90" y="195.62" width="9.05" height="2.79" fill="#d6ccf3"/>
<rect x="304.90" y="195.62" width="9.05" height="2.79" fill="#2010ee"/>
<rect x="313.90" y="195.62" width="9.05" height="2.79" fill="#d6ccf3"/>
<rect x="322.90" y="195.62" width="9.05" height="2.79" fill="#684cec"/>
<rect x="331.90" y="195.62" width="9.05" height="2.79" fill="#fab4a0"/>
<rect x="340.90" y="195.62" width="9.05" height="2.79" fill="#866cee"/>
<rect x="349.90" y="195.62" width="9.05" height="2.79" fill="#f2eef4"/>
<rect x="358.90" y="195.62" width="9.05" height="2.79" fill="#f8967c"/>
<rect x="367.90" y="195.62" width="9.05" height="2.79" fill="#fcd6c8"/>
<rect x="376.90" y="195.62" width="9.05" height="2.79" fill="#a08af0"/>
<rect x="385.90" y="195.62" width="9.05" height="2.79" fill="#fab4a0"/>
<rect x="394.90" y="195.62" width="9.05" height="2.79" fill="#f6765a"/>
<rect x="403.90" y="195.62" width="9.05" height="2.79" fill="#fab4a0"/>
<rect x="412.90" y="195.62" width="9.05" height="2.79" fill="#fab4a0"/>
<rect x="421.90" y="195.62" width="9.05" height="2.79" fill="#fab4a0"/>
<rect x="430.90" y="195.62" width="9.05" height="2.79" fill="#fab4a0"/>
<rect x="286.90" y="198.36" width="9.05" height="2.79" fill="#a08af0"/>
<rect x="295.90" y="198.36" width="9.05" height="2.79" fill="#d6ccf3"/>
<rect x="304.90" y="198.36" width="9.05" height="2.79" fill="#866cee"/>
<rect x="313.90" y="198.36" width="9.05" height="2.79" fill="#d6ccf3"/>
<rect x="322.90" y="198.36" width="9.05" height="2.79" fill="#684cec"/>
<rect x="331.90" y="198.36" width="9.05" height="2.79" fill="#fab4a0"/>
<rect x="340.90" y="198.36" width="9.05" height="2.79" fill="#a08af0"/>
<rect x="349.90" y="198.36" width="9.05" height="2.79" fill="#866cee"/>
<rect x="358.90" y="198.36" width="9.05" height="2.79" fill="#fcd6c8"/>
<rect x="367.90" y="198.36" width="9.05" height="2.79" fill="#f8967c"/>
<rect x="376.90" y="198.36" width="9.05" height="2.79" fill="#c4b6f2"/>
<rect x="385.90" y="198.36" width="9.05" height="2.79" fill="#f6765a"/>
<rect x="394.90" y="198.36" width="9.05" height="2.79" fill="#f45236"/>
<rect x="403.90" y="198.36" width="9.05" height="2.79" fill="#f8967c"/>
<rect x="412.90" y="198.36" width="9.05" height="2.79" fill="#f2eef4"/>
<rect x="421.90" y="198.36" width="9.05" height="2.79" fill="#f8967c"/>
<rect x="430.90" y="198.36" width="9.05" height="2.79" fill="#fab4a0"/>
<rect x="286.90" y="201.10" width="9.05" height="2.79" fill="#c4b6f2"/>
<rect x="295.90" y="201.10" width="9.05" height="2.79" fill="#fcd6c8"/>
<rect x="304.90" y="201.10" width="9.05" height="2.79" fill="#866cee"/>
<rect x="313.90" y="201.10" width="9.05" height="2.79" fill="#a08af0"/>
<rect x="322.90" y="201.10" width="9.05" height="2.79" fill="#866cee"/>
<rect x="331.90" y="201.10" width="9.05" height="2.79" fill="#fcd6c8"/>
<rect x="340.90" y="201.10" width="9.05" height="2.79" fill="#a08af0"/>
<rect x="349.90" y="201.10" width="9.05" height="2.79" fill="#a08af0"/>
<rect x="358.90" y="201.10" width="9.05" height="2.79" fill="#a08af0"/>
<rect x="367.90" y="201.10" width="9.05" height="2.79" fill="#a08af0"/>
<rect x="376.90" y="201.10" width="9.05" height="2.79" fill="#fcd6c8"/>
<rect x="385.90" y="201.10" width="9.05" height="2.79" fill="#fab4a0"/>
<rect x="394.90" y="201.10" width="9.05" height="2.79" fill="#f8967c"/>
<rect x="403.90" y="201.10" width="9.05" height="2.79" fill="#f8967c"/>
<rect x="412.90" y="201.10" width="9.05" height="2.79" fill="#fab4a0"/>
<rect x="421.90" y="201.10" width="9.05" height="2.79" fill="#fab4a0"/>
<rect x="430.90" y="201.10" width="9.05" height="2.79" fill="#f8967c"/>
<rect x="286.90" y="203.85" width="9.05" height="2.79" fill="#a08af0"/>
<rect x="295.90" y="203.85" width="9.05" height="2.79" fill="#fab4a0"/>
<rect x="304.90" y="203.85" width="9.05" height="2.79" fill="#a08af0"/>
<rect x="313.90" y="203.85" width="9.05" height="2.79" fill="#684cec"/>
<rect x="322.90" y="203.85" width="9.05" height="2.79" fill="#866cee"/>
<rect x="331.90" y="203.85" width="9.05" height="2.79" fill="#fab4a0"/>
<rect x="340.90" y="203.85" width="9.05" height="2.79" fill="#684cec"/>
<rect x="349.90" y="203.85" width="9.05" height="2.79" fill="#a08af0"/>
<rect x="358.90" y="203.85" width="9.05" height="2.79" fill="#fab4a0"/>
<rect x="367.90" y="203.85" width="9.05" height="2.79" fill="#a08af0"/>
<rect x="376.90" y="203.85" width="9.05" height="2.79" fill="#f2eef4"/>
<rect x="385.90" y="203.85" width="9.05" height="2.79" fill="#fab4a0"/>
<rect x="394.90" y="203.85" width="9.05" height="2.79" fill="#f6765a"/>
<rect x="403.90" y="203.85" width="9.05" height="2.79" fill="#f8967c"/>
<rect x="412.90" y="203.85" width="9.05" height="2.79" fill="#fab4a0"/>
<rect x="421.90" y="203.85" width="9.05" height="2.79" fill="#fab4a0"/>
<rect x="430.90" y="203.85" width="9.05" height="2.79" fill="#fab4a0"/>
<rect x="286.90" y="206.59" width="9.05" height="2.79" fill="#a08af0"/>
<rect x="295.90" y="206.59" width="9.05" height="2.79" fill="#f2eef4"/>
<rect x="304.90" y="206.59" width="9.05" height="2.79" fill="#c4b6f2"/>
<rect x="313.90" y="206.59" width="9.05" height="2.79" fill="#a08af0"/>
<rect x="322.90" y="206.59" width="9.05" height="2.79" fill="#866cee"/>
<rect x="331.90" y="206.59" width="9.05" height="2.79" fill="#c4b6f2"/>
<rect x="340.90" y="206.59" width="9.05" height="2.79" fill="#a08af0"/>
<rect x="349.90" y="206.59" width="9.05" height="2.79" fill="#866cee"/>
<rect x="358.90" y="206.59" width="9.05" height="2.79" fill="#fab4a0"/>
<rect x="367.90" y="206.59" width="9.05" height="2.79" fill="#c4b6f2"/>
<rect x="376.90" y="206.59" width="9.05" height="2.79" fill="#f6765a"/>
<rect x="385.90" y="206.59" width="9.05" height="2.79" fill="#fab4a0"/>
<rect x="394.90" y="206.59" width="9.05" height="2.79" fill="#f6765a"/>
<rect x="403.90" y="206.59" width="9.05" height="2.79" fill="#fab4a0"/>
<rect x="412.90" y="206.59" width="9.05" height="2.79" fill="#d6ccf3"/>
<rect x="421.90" y="206.59" width="9.05" height="2.79" fill="#fab4a0"/>
<rect x="430.90" y="206.59" width="9.05" height="2.79" fill="#fab4a0"/>
<rect x="286.90" y="209.33" width="9.05" height="2.79" fill="#a08af0"/>
<rect x="295.90" y="209.33" width="9.05" height="2.79" fill="#c4b6f2"/>
<rect x="304.90" y="209.33" width="9.05" height="2.79" fill="#a08af0"/>
<rect x="313.90" y="209.33" width="9.05" height="2.79" fill="#a08af0"/>
<rect x="322.90" y="209.33" width="9.05" height="2.79" fill="#866cee"/>
<rect x="331.90" y="209.33" width="9.05" height="2.79" fill="#a08af0"/>
<rect x="340.90" y="209.33" width="9.05" height="2.79" fill="#fcd6c8"/>
<rect x="349.90" y="209.33" width="9.05" height="2.79" fill="#fab4a0"/>
<rect x="358.90" y="209.33" width="9.05" height="2.79" fill="#f2eef4"/>
<rect x="367.90" y="209.33" width="9.05" height="2.79" fill="#fab4a0"/>
<rect x="376.90" y="209.33" width="9.05" height="2.79" fill="#c4b6f2"/>
<rect x="385.90" y="209.33" width="9.05" height="2.79" fill="#fab4a0"/>
<rect x="394.90" y="209.33" width="9.05" height="2.79" fill="#f6765a"/>
<rect x="403.90" y="209.33" width="9.05" height="2.79" fill="#fab4a0"/>
<rect x="412.90" y="209.33" width="9.05" height="2.79" fill="#fab4a0"/>
<rect x="421.90" y="209.33" width="9.05" height="2.79" fill="#fcd6c8"/>
<rect x="430.90" y="209.33" width="9.05" height="2.79" fill="#f6765a"/>
<rect x="286.90" y="212.07" width="9.05" height="2.79" fill="#684cec"/>
<rect x="295.90" y="212.07" width="9.05" height="2.79" fill="#a08af0"/>
<rect x="304.90" y="212.07" width="9.05" height="2.79" fill="#a08af0"/>
<rect x="313.90" y="212.07" width="9.05" height="2.79" fill="#482eec"/>
<rect x="322.90" y="212.07" width="9.05" height="2.79" fill="#684cec"/>
<rect x="331.90" y="212.07" width="9.05" height="2.79" fill="#fcd6c8"/>
<rect x="340.90" y="212.07" width="9.05" height="2.79" fill="#c4b6f2"/>
<rect x="349.90" y="212.07" width="9.05" height="2.79" fill="#fab4a0"/>
<rect x="358.90" y="212.07" width="9.05" height="2.79" fill="#fab4a0"/>
<rect x="367.90" y="212.07" width="9.05" height="2.79" fill="#fcd6c8"/>
<rect x="376.90" y="212.07" width="9.05" height="2.79" fill="#a08af0"/>
<rect x="385.90" y="212.07" width="9.05" height="2.79" fill="#f6765a"/>
<rect x="394.90" y="212.07" width="9.05" height="2.79" fill="#f8e0da"/>
<rect x="403.90" y="212.07" width="9.05" height="2.79" fill="#a08af0"/>
<rect x="412.90" y="212.07" width="9.05" height="2.79" fill="#fab4a0"/>
<rect x="421.90" y="212.07" width="9.05" height="2.79" fill="#f2eef4"/>
<rect x="430.90" y="212.07" width="9.05" height="2.79" fill="#f6765a"/>
<rect x="286.90" y="214.81" width="9.05" height="2.79" fill="#684cec"/>
<rect x="295.90" y="214.81" width="9.05" height="2.79" fill="#d6ccf3"/>
<rect x="304.90" y="214.81" width="9.05" height="2.79" fill="#d6ccf3"/>
<rect x="313.90" y="214.81" width="9.05" height="2.79" fill="#a08af0"/>
<rect x="322.90" y="214.81" width="9.05" height="2.79" fill="#2010ee"/>
<rect x="331.90" y="214.81" width="9.05" height="2.79" fill="#f8e0da"/>
<rect x="340.90" y="214.81" width="9.05" height="2.79" fill="#866cee"/>
<rect x="349.90" y="214.81" width="9.05" height="2.79" fill="#f8967c"/>
<rect x="358.90" y="214.81" width="9.05" height="2.79" fill="#f8e0da"/>
<rect x="367.90" y="214.81" width="9.05" height="2.79" fill="#fcd6c8"/>
<rect x="376.90" y="214.81" width="9.05" height="2.79" fill="#fab4a0"/>
<rect x="385.90" y="214.81" width="9.05" height="2.79" fill="#fab4a0"/>
<rect x="394.90" y="214.81" width="9.05" height="2.79" fill="#fcd6c8"/>
<rect x="403.90" y="214.81" width="9.05" height="2.79" fill="#fcd6c8"/>
<rect x="412.90" y="214.81" width="9.05" height="2.79" fill="#fab4a0"/>
<rect x="421.90" y="214.81" width="9.05" height="2.79" fill="#f8967c"/>
<rect x="430.90" y="214.81" width="9.05" height="2.79" fill="#fab4a0"/>
<rect x="286.90" y="217.56" width="9.05" height="2.79" fill="#684cec"/>
<rect x="295.90" y="217.56" width="9.05" height="2.79" fill="#a08af0"/>
<rect x="304.90" y="217.56" width="9.05" height="2.79" fill="#d6ccf3"/>
<rect x="313.90" y="217.56" width="9.05" height="2.79" fill="#a08af0"/>
<rect x="322.90" y="217.56" width="9.05" height="2.79" fill="#866cee"/>
<rect x="331.90" y="217.56" width="9.05" height="2.79" fill="#d6ccf3"/>
<rect x="340.90" y="217.56" width="9.05" height="2.79" fill="#866cee"/>
<rect x="349.90" y="217.56" width="9.05" height="2.79" fill="#d6ccf3"/>
<rect x="358.90" y="217.56" width="9.05" height="2.79" fill="#fab4a0"/>
<rect x="367.90" y="217.56" width="9.05" height="2.79" fill="#f02a12"/>
<rect x="376.90" y="217.56" width="9.05" height="2.79" fill="#fab4a0"/>
<rect x="385.90" y="217.56" width="9.05" height="2.79" fill="#c4b6f2"/>
<rect x="394.90" y="217.56" width="9.05" height="2.79" fill="#fab4a0"/>
<rect x="403.90" y="217.56" width="9.05" height="2.79" fill="#c4b6f2"/>
<rect x="412.90" y="217.56" width="9.05" height="2.79" fill="#a08af0"/>
<rect x="421.90" y="217.56" width="9.05" height="2.79" fill="#fcd6c8"/>
<rect x="430.90" y="217.56" width="9.05" height="2.79" fill="#f6765a"/>
<rect x="286.90" y="220.30" width="9.05" height="2.79" fill="#a08af0"/>
<rect x="295.90" y="220.30" width="9.05" height="2.79" fill="#a08af0"/>
<rect x="304.90" y="220.30" width="9.05" height="2.79" fill="#a08af0"/>
<rect x="313.90" y="220.30" width="9.05" height="2.79" fill="#a08af0"/>
<rect x="322.90" y="220.30" width="9.05" height="2.79" fill="#a08af0"/>
<rect x="331.90" y="220.30" width="9.05" height="2.79" fill="#a08af0"/>
<rect x="340.90" y="220.30" width="9.05" height="2.79" fill="#866cee"/>
<rect x="349.90" y="220.30" width="9.05" height="2.79" fill="#fab4a0"/>
<rect x="358.90" y="220.30" width="9.05" height="2.79" fill="#fab4a0"/>
<rect x="367.90" y="220.30" width="9.05" height="2.79" fill="#f45236"/>
<rect x="376.90" y="220.30" width="9.05" height="2.79" fill="#c4b6f2"/>
<rect x="385.90" y="220.30" width="9.05" height="2.79" fill="#d6ccf3"/>
<rect x="394.90" y="220.30" width="9.05" height="2.79" fill="#fab4a0"/>
<rect x="403.90" y="220.30" width="9.05" height="2.79" fill="#c4b6f2"/>
<rect x="412.90" y="220.30" width="9.05" height="2.79" fill="#a08af0"/>
<rect x="421.90" y="220.30" width="9.05" height="2.79" fill="#fab4a0"/>
<rect x="430.90" y="220.30" width="9.05" height="2.79" fill="#fab4a0"/>
<rect x="286.90" y="223.04" width="9.05" height="2.79" fill="#f2eef4"/>
<rect x="295.90" y="223.04" width="9.05" height="2.79" fill="#a08af0"/>
<rect x="304.90" y="223.04" width="9.05" height="2.79" fill="#866cee"/>
<rect x="313.90" y="223.04" width="9.05" height="2.79" fill="#866cee"/>
<rect x="322.90" y="223.04" width="9.05" height="2.79" fill="#a08af0"/>
<rect x="331.90" y="223.04" width="9.05" height="2.79" fill="#c4b6f2"/>
<rect x="340.90" y="223.04" width="9.05" height="2.79" fill="#c4b6f2"/>
<rect x="349.90" y="223.04" width="9.05" height="2.79" fill="#f2eef4"/>
<rect x="358.90" y="223.04" width="9.05" height="2.79" fill="#fcd6c8"/>
<rect x="367.90" y="223.04" width="9.05" height="2.79" fill="#f45236"/>
<rect x="376.90" y="223.04" width="9.05" height="2.79" fill="#a08af0"/>
<rect x="385.90" y="223.04" width="9.05" height="2.79" fill="#a08af0"/>
<rect x="394.90" y="223.04" width="9.05" height="2.79" fill="#fab4a0"/>
<rect x="403.90" y="223.04" width="9.05" height="2.79" fill="#f8967c"/>
<rect x="412.90" y="223.04" width="9.05" height="2.79" fill="#fab4a0"/>
<rect x="421.90" y="223.04" width="9.05" height="2.79" fill="#fab4a0"/>
<rect x="430.90" y="223.04" width="9.05" height="2.79" fill="#f2eef4"/>
<rect x="286.90" y="225.78" width="9.05" height="2.79" fill="#a08af0"/>
<rect x="295.90" y="225.78" width="9.05" height="2.79" fill="#a08af0"/>
<rect x="304.90" y="225.78" width="9.05" height="2.79" fill="#866cee"/>
<rect x="313.90" y="225.78" width="9.05" height="2.79" fill="#a08af0"/>
<rect x="322.90" y="225.78" width="9.05" height="2.79" fill="#d6ccf3"/>
<rect x="331.90" y="225.78" width="9.05" height="2.79" fill="#a08af0"/>
<rect x="340.90" y="225.78" width="9.05" height="2.79" fill="#fab4a0"/>
<rect x="349.90" y="225.78" width="9.05" height="2.79" fill="#fcd6c8"/>
<rect x="358.90" y="225.78" width="9.05" height="2.79" fill="#d6ccf3"/>
<rect x="367.90" y="225.78" width="9.05" height="2.79" fill="#f6765a"/>
<rect x="376.90" y="225.78" width="9.05" height="2.79" fill="#fab4a0"/>
<rect x="385.90" y="225.78" width="9.05" height="2.79" fill="#fab4a0"/>
<rect x="394.90" y="225.78" width="9.05" height="2.79" fill="#fab4a0"/>
<rect x="403.90" y="225.78" width="9.05" height="2.79" fill="#fab4a0"/>
<rect x="412.90" y="225.78" width="9.05" height="2.79" fill="#fab4a0"/>
<rect x="421.90" y="225.78" width="9.05" height="2.79" fill="#f8967c"/>
<rect x="430.90" y="225.78" width="9.05" height="2.79" fill="#fab4a0"/>
<rect x="286.90" y="228.52" width="9.05" height="2.79" fill="#482eec"/>
<rect x="295.90" y="228.52" width="9.05" height="2.79" fill="#866cee"/>
<rect x="304.90" y="228.52" width="9.05" height="2.79" fill="#866cee"/>
<rect x="313.90" y="228.52" width="9.05" height="2.79" fill="#a08af0"/>
<rect x="322.90" y="228.52" width="9.05" height="2.79" fill="#a08af0"/>
<rect x="331.90" y="228.52" width="9.05" height="2.79" fill="#a08af0"/>
<rect x="340.90" y="228.52" width="9.05" height="2.79" fill="#a08af0"/>
<rect x="349.90" y="228.52" width="9.05" height="2.79" fill="#fab4a0"/>
<rect x="358.90" y="228.52" width="9.05" height="2.79" fill="#f02a12"/>
<rect x="367.90" y="228.52" width="9.05" height="2.79" fill="#f8967c"/>
<rect x="376.90" y="228.52" width="9.05" height="2.79" fill="#fab4a0"/>
<rect x="385.90" y="228.52" width="9.05" height="2.79" fill="#f8967c"/>
<rect x="394.90" y="228.52" width="9.05" height="2.79" fill="#f6765a"/>
<rect x="403.90" y="228.52" width="9.05" height="2.79" fill="#866cee"/>
<rect x="412.90" y="228.52" width="9.05" height="2.79" fill="#fab4a0"/>
<rect x="421.90" y="228.52" width="9.05" height="2.79" fill="#c4b6f2"/>
<rect x="430.90" y="228.52" width="9.05" height="2.79" fill="#c4b6f2"/>
<rect x="286.90" y="231.27" width="9.05" height="2.79" fill="#a08af0"/>
<rect x="295.90" y="231.27" width="9.05" height="2.79" fill="#a08af0"/>
<rect x="304.90" y="231.27" width="9.05" height="2.79" fill="#f2eef4"/>
<rect x="313.90" y="231.27" width="9.05" height="2.79" fill="#a08af0"/>
<rect x="322.90" y="231.27" width="9.05" height="2.79" fill="#d6ccf3"/>
<rect x="331.90" y="231.27" width="9.05" height="2.79" fill="#482eec"/>
<rect x="340.90" y="231.27" width="9.05" height="2.79" fill="#a08af0"/>
<rect x="349.90" y="231.27" width="9.05" height="2.79" fill="#f8e0da"/>
<rect x="358.90" y="231.27" width="9.05" height="2.79" fill="#f6765a"/>
<rect x="367.90" y="231.27" width="9.05" height="2.79" fill="#f6765a"/>
<rect x="376.90" y="231.27" width="9.05" height="2.79" fill="#f2eef4"/>
<rect x="385.90" y="231.27" width="9.05" height="2.79" fill="#f8967c"/>
<rect x="394.90" y="231.27" width="9.05" height="2.79" fill="#f6765a"/>
<rect x="403.90" y="231.27" width="9.05" height="2.79" fill="#c4b6f2"/>
<rect x="412.90" y="231.27" width="9.05" height="2.79" fill="#866cee"/>
<rect x="421.90" y="231.27" width="9.05" height="2.79" fill="#fab4a0"/>
<rect x="430.90" y="231.27" width="9.05" height="2.79" fill="#c4b6f2"/>
<rect x="286.90" y="234.01" width="9.05" height="2.79" fill="#d6ccf3"/>
<rect x="295.90" y="234.01" width="9.05" height="2.79" fill="#a08af0"/>
<rect x="304.90" y="234.01" width="9.05" height="2.79" fill="#d6ccf3"/>
<rect x="313.90" y="234.01" width="9.05" height="2.79" fill="#a08af0"/>
<rect x="322.90" y="234.01" width="9.05" height="2.79" fill="#f8e0da"/>
<rect x="331.90" y="234.01" width="9.05" height="2.79" fill="#866cee"/>
<rect x="340.90" y="234.01" width="9.05" height="2.79" fill="#d6ccf3"/>
<rect x="349.90" y="234.01" width="9.05" height="2.79" fill="#c4b6f2"/>
<rect x="358.90" y="234.01" width="9.05" height="2.79" fill="#a08af0"/>
<rect x="367.90" y="234.01" width="9.05" height="2.79" fill="#fab4a0"/>
<rect x="376.90" y="234.01" width="9.05" height="2.79" fill="#fab4a0"/>
<rect x="385.90" y="234.01" width="9.05" height="2.79" fill="#f8967c"/>
<rect x="394.90" y="234.01" width="9.05" height="2.79" fill="#f6765a"/>
<rect x="403.90" y="234.01" width="9.05" height="2.79" fill="#f2eef4"/>
<rect x="412.90" y="234.01" width="9.05" height="2.79" fill="#a08af0"/>
<rect x="421.90" y="234.01" width="9.05" height="2.79" fill="#a08af0"/>
<rect x="430.90" y="234.01" width="9.05" height="2.79" fill="#f6765a"/>
<rect x="286.90" y="236.75" width="9.05" height="2.79" fill="#a08af0"/>
<rect x="295.90" y="236.75" width="9.05" height="2.79" fill="#a08af0"/>
<rect x="304.90" y="236.75" width="9.05" height="2.79" fill="#a08af0"/>
<rect x="313.90" y="236.75" width="9.05" height="2.79" fill="#c4b6f2"/>
<rect x="322.90" y="236.75" width="9.05" height="2.79" fill="#a08af0"/>
<rect x="331.90" y="236.75" width="9.05" height="2.79" fill="#684cec"/>
<rect x="340.90" y="236.75" width="9.05" height="2.79" fill="#d6ccf3"/>
<rect x="349.90" y="236.75" width="9.05" height="2.79" fill="#c4b6f2"/>
<rect x="358.90" y="236.75" width="9.05" height="2.79" fill="#a08af0"/>
<rect x="367.90" y="236.75" width="9.05" height="2.79" fill="#f8e0da"/>
<rect x="376.90" y="236.75" width="9.05" height="2.79" fill="#f8e0da"/>
<rect x="385.90" y="236.75" width="9.05" height="2.79" fill="#f8967c"/>
<rect x="394.90" y="236.75" width="9.05" height="2.79" fill="#fab4a0"/>
<rect x="403.90" y="236.75" width="9.05" height="2.79" fill="#f45236"/>
<rect x="412.90" y="236.75" width="9.05" height="2.79" fill="#f8967c"/>
<rect x="421.90" y="236.75" width="9.05" height="2.79" fill="#fab4a0"/>
<rect x="430.90" y="236.75" width="9.05" height="2.79" fill="#fab4a0"/>
<rect x="286.90" y="239.49" width="9.05" height="2.79" fill="#a08af0"/>
<rect x="295.90" y="239.49" width="9.05" height="2.79" fill="#866cee"/>
<rect x="304.90" y="239.49" width="9.05" height="2.79" fill="#a08af0"/>
<rect x="313.90" y="239.49" width="9.05" height="2.79" fill="#a08af0"/>
<rect x="322.90" y="239.49" width="9.05" height="2.79" fill="#a08af0"/>
<rect x="331.90" y="239.49" width="9.05" height="2.79" fill="#684cec"/>
<rect x="340.90" y="239.49" width="9.05" height="2.79" fill="#f2eef4"/>
<rect x="349.90" y="239.49" width="9.05" height="2.79" fill="#a08af0"/>
<rect x="358.90" y="239.49" width="9.05" height="2.79" fill="#866cee"/>
<rect x="367.90" y="239.49" width="9.05" height="2.79" fill="#fab4a0"/>
<rect x="376.90" y="239.49" width="9.05" height="2.79" fill="#fab4a0"/>
<rect x="385.90" y="239.49" width="9.05" height="2.79" fill="#f6765a"/>
<rect x="394.90" y="239.49" width="9.05" height="2.79" fill="#fab4a0"/>
<rect x="403.90" y="239.49" width="9.05" height="2.79" fill="#f45236"/>
<rect x="412.90" y="239.49" width="9.05" height="2.79" fill="#fab4a0"/>
<rect x="421.90" y="239.49" width="9.05" height="2.79" fill="#f8967c"/>
<rect x="430.90" y="239.49" width="9.05" height="2.79" fill="#fab4a0"/>
<rect x="286.90" y="242.23" width="9.05" height="2.79" fill="#a08af0"/>
<rect x="295.90" y="242.23" width="9.05" height="2.79" fill="#a08af0"/>
<rect x="304.90" y="242.23" width="9.05" height="2.79" fill="#d6ccf3"/>
<rect x="313.90" y="242.23" width="9.05" height="2.79" fill="#a08af0"/>
<rect x="322.90" y="242.23" width="9.05" height="2.79" fill="#c4b6f2"/>
<rect x="331.90" y="242.23" width="9.05" height="2.79" fill="#a08af0"/>
<rect x="340.90" y="242.23" width="9.05" height="2.79" fill="#d6ccf3"/>
<rect x="349.90" y="242.23" width="9.05" height="2.79" fill="#a08af0"/>
<rect x="358.90" y="242.23" width="9.05" height="2.79" fill="#866cee"/>
<rect x="367.90" y="242.23" width="9.05" height="2.79" fill="#fab4a0"/>
<rect x="376.90" y="242.23" width="9.05" height="2.79" fill="#fab4a0"/>
<rect x="385.90" y="242.23" width="9.05" height="2.79" fill="#fab4a0"/>
<rect x="394.90" y="242.23" width="9.05" height="2.79" fill="#fab4a0"/>
<rect x="403.90" y="242.23" width="9.05" height="2.79" fill="#f6765a"/>
<rect x="412.90" y="242.23" width="9.05" height="2.79" fill="#f2eef4"/>
<rect x="421.90" y="242.23" width="9.05" height="2.79" fill="#fab4a0"/>
<rect x="430.90" y="242.23" width="9.05" height="2.79" fill="#f6765a"/>
<rect x="286.90" y="244.98" width="9.05" height="2.79" fill="#866cee"/>
<rect x="295.90" y="244.98" width="9.05" height="2.79" fill="#866cee"/>
<rect x="304.90" y="244.98" width="9.05" height="2.79" fill="#f2eef4"/>
<rect x="313.90" y="244.98" width="9.05" height="2.79" fill="#866cee"/>
<rect x="322.90" y="244.98" width="9.05" height="2.79" fill="#a08af0"/>
<rect x="331.90" y="244.98" width="9.05" height="2.79" fill="#f2eef4"/>
<rect x="340.90" y="244.98" width="9.05" height="2.79" fill="#fab4a0"/>
<rect x="349.90" y="244.98" width="9.05" height="2.79" fill="#a08af0"/>
<rect x="358.90" y="244.98" width="9.05" height="2.79" fill="#a08af0"/>
<rect x="367.90" y="244.98" width="9.05" height="2.79" fill="#f2eef4"/>
<rect x="376.90" y="244.98" width="9.05" height="2.79" fill="#f8967c"/>
<rect x="385.90" y="244.98" width="9.05" height="2.79" fill="#fab4a0"/>
<rect x="394.90" y="244.98" width="9.05" height="2.79" fill="#fab4a0"/>
<rect x="403.90" y="244.98" width="9.05" height="2.79" fill="#f6765a"/>
<rect x="412.90" y="244.98" width="9.05" height="2.79" fill="#fab4a0"/>
<rect x="421.90" y="244.98" width="9.05" height="2.79" fill="#fab4a0"/>
<rect x="430.90" y="244.98" width="9.05" height="2.79" fill="#fab4a0"/>
<rect x="286.90" y="247.72" width="9.05" height="2.79" fill="#a08af0"/>
<rect x="295.90" y="247.72" width="9.05" height="2.79" fill="#a08af0"/>
<rect x="304.90" y="247.72" width="9.05" height="2.79" fill="#866cee"/>
<rect x="313.90" y="247.72" width="9.05" height="2.79" fill="#f6765a"/>
<rect x="322.90" y="247.72" width="9.05" height="2.79" fill="#a08af0"/>
<rect x="331.90" y="247.72" width="9.05" height="2.79" fill="#c4b6f2"/>
<rect x="340.90" y="247.72" width="9.05" height="2.79" fill="#c4b6f2"/>
<rect x="349.90" y="247.72" width="9.05" height="2.79" fill="#684cec"/>
<rect x="358.90" y="247.72" width="9.05" height="2.79" fill="#fcd6c8"/>
<rect x="367.90" y="247.72" width="9.05" height="2.79" fill="#f8967c"/>
<rect x="376.90" y="247.72" width="9.05" height="2.79" fill="#f6765a"/>
<rect x="385.90" y="247.72" width="9.05" height="2.79" fill="#fcd6c8"/>
<rect x="394.90" y="247.72" width="9.05" height="2.79" fill="#fcd6c8"/>
<rect x="403.90" y="247.72" width="9.05" height="2.79" fill="#fab4a0"/>
<rect x="412.90" y="247.72" width="9.05" height="2.79" fill="#a08af0"/>
<rect x="421.90" y="247.72" width="9.05" height="2.79" fill="#f6765a"/>
<rect x="430.90" y="247.72" width="9.05" height="2.79" fill="#f8e0da"/>
<rect x="286.90" y="250.46" width="9.05" height="2.79" fill="#a08af0"/>
<rect x="295.90" y="250.46" width="9.05" height="2.79" fill="#a08af0"/>
<rect x="304.90" y="250.46" width="9.05" height="2.79" fill="#c4b6f2"/>
<rect x="313.90" y="250.46" width="9.05" height="2.79" fill="#fcd6c8"/>
<rect x="322.90" y="250.46" width="9.05" height="2.79" fill="#c4b6f2"/>
<rect x="331.90" y="250.46" width="9.05" height="2.79" fill="#c4b6f2"/>
<rect x="340.90" y="250.46" width="9.05" height="2.79" fill="#fab4a0"/>
<rect x="349.90" y="250.46" width="9.05" height="2.79" fill="#866cee"/>
<rect x="358.90" y="250.46" width="9.05" height="2.79" fill="#f2eef4"/>
<rect x="367.90" y="250.46" width="9.05" height="2.79" fill="#d6ccf3"/>
<rect x="376.90" y="250.46" width="9.05" height="2.79" fill="#f8967c"/>
<rect x="385.90" y="250.46" width="9.05" height="2.79" fill="#fab4a0"/>
<rect x="394.90" y="250.46" width="9.05" height="2.79" fill="#c4b6f2"/>
<rect x="403.90" y="250.46" width="9.05" height="2.79" fill="#fcd6c8"/>
<rect x="412.90" y="250.46" width="9.05" height="2.79" fill="#c4b6f2"/>
<rect x="421.90" y="250.46" width="9.05" height="2.79" fill="#f6765a"/>
<rect x="430.90" y="250.46" width="9.05" height="2.79" fill="#f02a12"/>
<rect x="286.90" y="253.20" width="9.05" height="2.79" fill="#2010ee"/>
<rect x="295.90" y="253.20" width="9.05" height="2.79" fill="#c4b6f2"/>
<rect x="304.90" y="253.20" width="9.05" height="2.79" fill="#a08af0"/>
<rect x="313.90" y="253.20" width="9.05" height="2.79" fill="#c4b6f2"/>
<rect x="322.90" y="253.20" width="9.05" height="2.79" fill="#a08af0"/>
<rect x="331.90" y="253.20" width="9.05" height="2.79" fill="#a08af0"/>
<rect x="340.90" y="253.20" width="9.05" height="2.79" fill="#fab4a0"/>
<rect x="349.90" y="253.20" width="9.05" height="2.79" fill="#f2eef4"/>
<rect x="358.90" y="253.20" width="9.05" height="2.79" fill="#f8967c"/>
<rect x="367.90" y="253.20" width="9.05" height="2.79" fill="#fab4a0"/>
<rect x="376.90" y="253.20" width="9.05" height="2.79" fill="#fab4a0"/>
<rect x="385.90" y="253.20" width="9.05" height="2.79" fill="#f2eef4"/>
<rect x="394.90" y="253.20" width="9.05" height="2.79" fill="#a08af0"/>
<rect x="403.90" y="253.20" width="9.05" height="2.79" fill="#c4b6f2"/>
<rect x="412.90" y="253.20" width="9.05" height="2.79" fill="#fab4a0"/>
<rect x="421.90" y="253.20" width="9.05" height="2.79" fill="#c4b6f2"/>
<rect x="430.90" y="253.20" width="9.05" height="2.79" fill="#f6765a"/>
<rect x="286.90" y="255.94" width="9.05" height="2.79" fill="#866cee"/>
<rect x="295.90" y="255.94" width="9.05" height="2.79" fill="#866cee"/>
<rect x="304.90" y="255.94" width="9.05" height="2.79" fill="#866cee"/>
<rect x="313.90" y="255.94" width="9.05" height="2.79" fill="#fcd6c8"/>
<rect x="322.90" y="255.94" width="9.05" height="2.79" fill="#866cee"/>
<rect x="331.90" y="255.94" width="9.05" height="2.79" fill="#c4b6f2"/>
<rect x="340.90" y="255.94" width="9.05" height="2.79" fill="#c4b6f2"/>
<rect x="349.90" y="255.94" width="9.05" height="2.79" fill="#f02a12"/>
<rect x="358.90" y="255.94" width="9.05" height="2.79" fill="#f6765a"/>
<rect x="367.90" y="255.94" width="9.05" height="2.79" fill="#fab4a0"/>
<rect x="376.90" y="255.94" width="9.05" height="2.79" fill="#c4b6f2"/>
<rect x="385.90" y="255.94" width="9.05" height="2.79" fill="#c4b6f2"/>
<rect x="394.90" y="255.94" width="9.05" height="2.79" fill="#c4b6f2"/>
<rect x="403.90" y="255.94" width="9.05" height="2.79" fill="#c4b6f2"/>
<rect x="412.90" y="255.94" width="9.05" height="2.79" fill="#f2eef4"/>
<rect x="421.90" y="255.94" width="9.05" height="2.79" fill="#c4b6f2"/>
<rect x="430.90" y="255.94" width="9.05" height="2.79" fill="#f8e0da"/>
<rect x="286.90" y="258.69" width="9.05" height="2.79" fill="#c4b6f2"/>
<rect x="295.90" y="258.69" width="9.05" height="2.79" fill="#a08af0"/>
<rect x="304.90" y="258.69" width="9.05" height="2.79" fill="#c4b6f2"/>
<rect x="313.90" y="258.69" width="9.05" height="2.79" fill="#a08af0"/>
<rect x="322.90" y="258.69" width="9.05" height="2.79" fill="#a08af0"/>
<rect x="331.90" y="258.69" width="9.05" height="2.79" fill="#c4b6f2"/>
<rect x="340.90" y="258.69" width="9.05" height="2.79" fill="#f2eef4"/>
<rect x="349.90" y="258.69" width="9.05" height="2.79" fill="#f6765a"/>
<rect x="358.90" y="258.69" width="9.05" height="2.79" fill="#f6765a"/>
<rect x="367.90" y="258.69" width="9.05" height="2.79" fill="#fcd6c8"/>
<rect x="376.90" y="258.69" width="9.05" height="2.79" fill="#c4b6f2"/>
<rect x="385.90" y="258.69" width="9.05" height="2.79" fill="#c4b6f2"/>
<rect x="394.90" y="258.69" width="9.05" height="2.79" fill="#c4b6f2"/>
<rect x="403.90" y="258.69" width="9.05" height="2.79" fill="#a08af0"/>
<rect x="412.90" y="258.69" width="9.05" height="2.79" fill="#fab4a0"/>
<rect x="421.90" y="258.69" width="9.05" height="2.79" fill="#fab4a0"/>
<rect x="430.90" y="258.69" width="9.05" height="2.79" fill="#fab4a0"/>
<rect x="286.90" y="261.43" width="9.05" height="2.79" fill="#a08af0"/>
<rect x="295.90" y="261.43" width="9.05" height="2.79" fill="#a08af0"/>
<rect x="304.90" y="261.43" width="9.05" height="2.79" fill="#a08af0"/>
<rect x="313.90" y="261.43" width="9.05" height="2.79" fill="#a08af0"/>
<rect x="322.90" y="261.43" width="9.05" height="2.79" fill="#a08af0"/>
<rect x="331.90" y="261.43" width="9.05" height="2.79" fill="#fab4a0"/>
<rect x="340.90" y="261.43" width="9.05" height="2.79" fill="#c4b6f2"/>
<rect x="349.90" y="261.43" width="9.05" height="2.79" fill="#f6765a"/>
<rect x="358.90" y="261.43" width="9.05" height="2.79" fill="#f6765a"/>
<rect x="367.90" y="261.43" width="9.05" height="2.79" fill="#fcd6c8"/>
<rect x="376.90" y="261.43" width="9.05" height="2.79" fill="#fcd6c8"/>
<rect x="385.90" y="261.43" width="9.05" height="2.79" fill="#c4b6f2"/>
<rect x="394.90" y="261.43" width="9.05" height="2.79" fill="#fab4a0"/>
<rect x="403.90" y="261.43" width="9.05" height="2.79" fill="#fab4a0"/>
<rect x="412.90" y="261.43" width="9.05" height="2.79" fill="#f8967c"/>
<rect x="421.90" y="261.43" width="9.05" height="2.79" fill="#f6765a"/>
<rect x="430.90" y="261.43" width="9.05" height="2.79" fill="#fab4a0"/>
<rect x="286.90" y="264.17" width="9.05" height="2.79" fill="#2010ee"/>
<rect x="295.90" y="264.17" width="9.05" height="2.79" fill="#c4b6f2"/>
<rect x="304.90" y="264.17" width="9.05" height="2.79" fill="#a08af0"/>
<rect x="313.90" y="264.17" width="9.05" height="2.79" fill="#a08af0"/>
<rect x="322.90" y="264.17" width="9.05" height="2.79" fill="#684cec"/>
<rect x="331.90" y="264.17" width="9.05" height="2.79" fill="#f8967c"/>
<rect x="340.90" y="264.17" width="9.05" height="2.79" fill="#c4b6f2"/>
<rect x="349.90" y="264.17" width="9.05" height="2.79" fill="#f8967c"/>
<rect x="358.90" y="264.17" width="9.05" height="2.79" fill="#f6765a"/>
<rect x="367.90" y="264.17" width="9.05" height="2.79" fill="#fcd6c8"/>
<rect x="376.90" y="264.17" width="9.05" height="2.79" fill="#f2eef4"/>
<rect x="385.90" y="264.17" width="9.05" height="2.79" fill="#f2eef4"/>
<rect x="394.90" y="264.17" width="9.05" height="2.79" fill="#fab4a0"/>
<rect x="403.90" y="264.17" width="9.05" height="2.79" fill="#fab4a0"/>
<rect x="412.90" y="264.17" width="9.05" height="2.79" fill="#f8967c"/>
<rect x="421.90" y="264.17" width="9.05" height="2.79" fill="#f2eef4"/>
<rect x="430.90" y="264.17" width="9.05" height="2.79" fill="#fab4a0"/>
<rect x="286.90" y="266.91" width="9.05" height="2.79" fill="#482eec"/>
<rect x="295.90" y="266.91" width="9.05" height="2.79" fill="#c4b6f2"/>
<rect x="304.90" y="266.91" width="9.05" height="2.79" fill="#c4b6f2"/>
<rect x="313.90" y="266.91" width="9.05" height="2.79" fill="#c4b6f2"/>
<rect x="322.90" y="266.91" width="9.05" height="2.79" fill="#a08af0"/>
<rect x="331.90" y="266.91" width="9.05" height="2.79" fill="#c4b6f2"/>
<rect x="340.90" y="266.91" width="9.05" height="2.79" fill="#fab4a0"/>
<rect x="349.90" y="266.91" width="9.05" height="2.79" fill="#f8967c"/>
<rect x="358.90" y="266.91" width="9.05" height="2.79" fill="#f45236"/>
<rect x="367.90" y="266.91" width="9.05" height="2.79" fill="#f2eef4"/>
<rect x="376.90" y="266.91" width="9.05" height="2.79" fill="#fab4a0"/>
<rect x="385.90" y="266.91" width="9.05" height="2.79" fill="#c4b6f2"/>
<rect x="394.90" y="266.91" width="9.05" height="2.79" fill="#fab4a0"/>
<rect x="403.90" y="266.91" width="9.05" height="2.79" fill="#c4b6f2"/>
<rect x="412.90" y="266.91" width="9.05" height="2.79" fill="#fab4a0"/>
<rect x="421.90" y="266.91" width="9.05" height="2.79" fill="#c4b6f2"/>
<rect x="430.90" y="266.91" width="9.05" height="2.79" fill="#f8967c"/>
<rect x="286.90" y="269.65" width="9.05" height="2.79" fill="#684cec"/>
<rect x="295.90" y="269.65" width="9.05" height="2.79" fill="#c4b6f2"/>
<rect x="304.90" y="269.65" width="9.05" height="2.79" fill="#a08af0"/>
<rect x="313.90" y="269.65" width="9.05" height="2.79" fill="#a08af0"/>
<rect x="322.90" y="269.65" width="9.05" height="2.79" fill="#a08af0"/>
<rect x="331.90" y="269.65" width="9.05" height="2.79" fill="#a08af0"/>
<rect x="340.90" y="269.65" width="9.05" height="2.79" fill="#fab4a0"/>
<rect x="349.90" y="269.65" width="9.05" height="2.79" fill="#f6765a"/>
<rect x="358.90" y="269.65" width="9.05" height="2.79" fill="#f8967c"/>
<rect x="367.90" y="269.65" width="9.05" height="2.79" fill="#fab4a0"/>
<rect x="376.90" y="269.65" width="9.05" height="2.79" fill="#fab4a0"/>
<rect x="385.90" y="269.65" width="9.05" height="2.79" fill="#a08af0"/>
<rect x="394.90" y="269.65" width="9.05" height="2.79" fill="#f8e0da"/>
<rect x="403.90" y="269.65" width="9.05" height="2.79" fill="#a08af0"/>
<rect x="412.90" y="269.65" width="9.05" height="2.79" fill="#c4b6f2"/>
<rect x="421.90" y="269.65" width="9.05" height="2.79" fill="#fab4a0"/>
<rect x="430.90" y="269.65" width="9.05" height="2.79" fill="#f6765a"/>
<rect x="286.90" y="273.60" width="9.05" height="5.5" fill="#8a9ed0"/>
<rect x="295.90" y="273.60" width="9.05" height="5.5" fill="#8a9ed0"/>
<rect x="304.90" y="273.60" width="9.05" height="5.5" fill="#8a9ed0"/>
<rect x="313.90" y="273.60" width="9.05" height="5.5" fill="#8a9ed0"/>
<rect x="322.90" y="273.60" width="9.05" height="5.5" fill="#8a9ed0"/>
<rect x="331.90" y="273.60" width="9.05" height="5.5" fill="#8a9ed0"/>
<rect x="340.90" y="273.60" width="9.05" height="5.5" fill="#8a9ed0"/>
<rect x="349.90" y="273.60" width="9.05" height="5.5" fill="#5cb896"/>
<rect x="358.90" y="273.60" width="9.05" height="5.5" fill="#5cb896"/>
<rect x="367.90" y="273.60" width="9.05" height="5.5" fill="#5cb896"/>
<rect x="376.90" y="273.60" width="9.05" height="5.5" fill="#5cb896"/>
<rect x="385.90" y="273.60" width="9.05" height="5.5" fill="#5cb896"/>
<rect x="394.90" y="273.60" width="9.05" height="5.5" fill="#5cb896"/>
<rect x="403.90" y="273.60" width="9.05" height="5.5" fill="#5cb896"/>
<rect x="412.90" y="273.60" width="9.05" height="5.5" fill="#8a9ed0"/>
<rect x="421.90" y="273.60" width="9.05" height="5.5" fill="#5cb896"/>
<rect x="430.90" y="273.60" width="9.05" height="5.5" fill="#5cb896"/>
<text x="5.60" y="146.40" font-size="7.4" fill="#000" font-weight="bold" text-anchor="start" stroke="#000" stroke-width="0.12">B</text>
<text x="105.20" y="142.70" font-size="6.5" fill="#111" font-weight="normal" text-anchor="start" stroke="#111" stroke-width="0.1" textLength="54.6" lengthAdjust="spacingAndGlyphs">CLE vs Normal Skin</text>
<line x1="65.60" y1="144.30" x2="195.00" y2="144.30" stroke="#777" stroke-width="0.55"/>
<polyline points="84.01,156.70 84.01,153.30 95.75,153.30 95.75,156.70" fill="none" stroke="#808080" stroke-width="0.45"/>
<polyline points="107.49,156.70 107.49,153.30 119.23,153.30 119.23,156.70" fill="none" stroke="#808080" stroke-width="0.45"/>
<polyline points="89.88,153.30 89.88,151.70 113.36,151.70 113.36,153.30" fill="none" stroke="#808080" stroke-width="0.45"/>
<polyline points="101.62,151.70 101.62,151.20 130.97,151.20 130.97,156.70" fill="none" stroke="#808080" stroke-width="0.45"/>
<polyline points="72.27,156.70 72.27,150.20 116.30,150.20 116.30,151.20" fill="none" stroke="#808080" stroke-width="0.45"/>
<polyline points="154.45,156.70 154.45,152.30 166.19,152.30 166.19,156.70" fill="none" stroke="#808080" stroke-width="0.45"/>
<polyline points="177.93,156.70 177.93,152.60 189.67,152.60 189.67,156.70" fill="none" stroke="#808080" stroke-width="0.45"/>
<polyline points="160.32,152.30 160.32,151.40 183.80,151.40 183.80,152.60" fill="none" stroke="#808080" stroke-width="0.45"/>
<polyline points="142.71,156.70 142.71,150.70 172.06,150.70 172.06,151.40" fill="none" stroke="#808080" stroke-width="0.45"/>
<polyline points="94.28,150.20 94.28,146.60 157.38,146.60 157.38,150.70" fill="none" stroke="#808080" stroke-width="0.45"/>
<text x="64.9" y="165.16" font-size="2.8" fill="#222" text-anchor="end" textLength="11.7" lengthAdjust="spacingAndGlyphs">METHYLURIDINE</text>
<text x="64.9" y="167.31" font-size="2.8" fill="#222" text-anchor="end" textLength="21.0" lengthAdjust="spacingAndGlyphs">METHYL2-URIDINE</text>
<text x="64.9" y="169.46" font-size="2.8" fill="#222" text-anchor="end" textLength="21.0" lengthAdjust="spacingAndGlyphs">LYSINE SERINEOXO</text>
<text x="64.9" y="171.61" font-size="2.8" fill="#222" text-anchor="end" textLength="6.0" lengthAdjust="spacingAndGlyphs">GLUTARYL</text>
<text x="64.9" y="173.75" font-size="2.8" fill="#222" text-anchor="end" textLength="21.0" lengthAdjust="spacingAndGlyphs">CHOLINETAURINE</text>
<text x="64.9" y="175.90" font-size="2.8" fill="#222" text-anchor="end" textLength="14.6" lengthAdjust="spacingAndGlyphs">METHYLTAURINE</text>
<text x="64.9" y="178.05" font-size="2.8" fill="#222" text-anchor="end" textLength="21.0" lengthAdjust="spacingAndGlyphs">XANTHINEHYDROXY</text>
<text x="64.9" y="180.19" font-size="2.8" fill="#222" text-anchor="end" textLength="21.0" lengthAdjust="spacingAndGlyphs">ALANINE SUCCINATE</text>
<text x="64.9" y="182.34" font-size="2.8" fill="#222" text-anchor="end" textLength="16.0" lengthAdjust="spacingAndGlyphs">XANTHINEDI</text>
<text x="64.9" y="184.49" font-size="2.8" fill="#222" text-anchor="end" textLength="14.6" lengthAdjust="spacingAndGlyphs">SUCCINATE</text>
<text x="64.9" y="186.63" font-size="2.8" fill="#222" text-anchor="end" textLength="27.6" lengthAdjust="spacingAndGlyphs">HYDROXY 5-GLUCOSE</text>
<text x="64.9" y="188.78" font-size="2.8" fill="#222" text-anchor="end" textLength="24.0" lengthAdjust="spacingAndGlyphs">PHOSPHATEDIMETHYL</text>
<text x="64.9" y="190.93" font-size="2.8" fill="#222" text-anchor="end" textLength="18.0" lengthAdjust="spacingAndGlyphs">ADENOSINE 2-</text>
<text x="64.9" y="193.08" font-size="2.8" fill="#222" text-anchor="end" textLength="11.7" lengthAdjust="spacingAndGlyphs">SERINEBUTYRATE</text>
<text x="64.9" y="195.22" font-size="2.8" fill="#222" text-anchor="end" textLength="18.0" lengthAdjust="spacingAndGlyphs">MALATEBUTYRATE</text>
<text x="64.9" y="197.37" font-size="2.8" fill="#222" text-anchor="end" textLength="28.4" lengthAdjust="spacingAndGlyphs">GLUCOSE XANTHINE</text>
<text x="64.9" y="199.52" font-size="2.8" fill="#222" text-anchor="end" textLength="24.0" lengthAdjust="spacingAndGlyphs">5- MALATE ADENOSINE</text>
<text x="64.9" y="201.66" font-size="2.8" fill="#222" text-anchor="end" textLength="16.7" lengthAdjust="spacingAndGlyphs">2-DIURIDINE</text>
<text x="64.9" y="203.81" font-size="2.8" fill="#222" text-anchor="end" textLength="31.0" lengthAdjust="spacingAndGlyphs">GLUCOSEINOSINESUCCINATE</text>
<text x="64.9" y="205.96" font-size="2.8" fill="#222" text-anchor="end" textLength="22.6" lengthAdjust="spacingAndGlyphs">URIDINE LYSINEGLUCOSE</text>
<text x="64.9" y="208.10" font-size="2.8" fill="#222" text-anchor="end" textLength="16.7" lengthAdjust="spacingAndGlyphs">DIOXO ALANINE</text>
<text x="64.9" y="212.40" font-size="2.8" fill="#222" text-anchor="end" textLength="15.3" lengthAdjust="spacingAndGlyphs">TAURINEOXO</text>
<text x="64.9" y="214.55" font-size="2.8" fill="#222" text-anchor="end" textLength="38.5" lengthAdjust="spacingAndGlyphs">2-5- LYSINEURIDINEDI2-MALATE</text>
<text x="64.9" y="220.99" font-size="2.8" fill="#222" text-anchor="end" textLength="11.7" lengthAdjust="spacingAndGlyphs">CITRATE</text>
<text x="64.9" y="223.13" font-size="2.8" fill="#222" text-anchor="end" textLength="19.7" lengthAdjust="spacingAndGlyphs">CITRATELYSINE</text>
<text x="64.9" y="225.28" font-size="2.8" fill="#222" text-anchor="end" textLength="21.8" lengthAdjust="spacingAndGlyphs">N-ACETYLDI5- PHOSPHATE</text>
<text x="64.9" y="229.57" font-size="2.8" fill="#222" text-anchor="end" textLength="8.0" lengthAdjust="spacingAndGlyphs">ALANINE</text>
<text x="64.9" y="231.72" font-size="2.8" fill="#222" text-anchor="end" textLength="10.0" lengthAdjust="spacingAndGlyphs">MALATE</text>
<text x="64.9" y="233.87" font-size="2.8" fill="#222" text-anchor="end" textLength="11.0" lengthAdjust="spacingAndGlyphs">CITRATE</text>
<text x="64.9" y="236.02" font-size="2.8" fill="#222" text-anchor="end" textLength="7.3" lengthAdjust="spacingAndGlyphs">CHOLINE</text>
<text x="64.9" y="238.16" font-size="2.8" fill="#222" text-anchor="end" textLength="19.0" lengthAdjust="spacingAndGlyphs">5-LYSINE2-MALATE</text>
<text x="64.9" y="240.31" font-size="2.8" fill="#222" text-anchor="end" textLength="14.6" lengthAdjust="spacingAndGlyphs">PROLINEDI</text>
<text x="64.9" y="242.46" font-size="2.8" fill="#222" text-anchor="end" textLength="11.0" lengthAdjust="spacingAndGlyphs">ADENOSINE</text>
<text x="64.9" y="244.60" font-size="2.8" fill="#222" text-anchor="end" textLength="27.6" lengthAdjust="spacingAndGlyphs">XANTHINEMALATE BUTYRATE</text>
<text x="64.9" y="246.75" font-size="2.8" fill="#222" text-anchor="end" textLength="29.8" lengthAdjust="spacingAndGlyphs">TAURINEGLUCOSETAURINE</text>
<text x="64.9" y="248.90" font-size="2.8" fill="#222" text-anchor="end" textLength="35.6" lengthAdjust="spacingAndGlyphs">PROLINE 2- METHYL PHOSPHATE</text>
<text x="64.9" y="251.04" font-size="2.8" fill="#222" text-anchor="end" textLength="8.7" lengthAdjust="spacingAndGlyphs">GLUTAMINE</text>
<text x="64.9" y="253.19" font-size="2.8" fill="#222" text-anchor="end" textLength="17.5" lengthAdjust="spacingAndGlyphs">INOSINE3-GLUCOSE</text>
<text x="64.9" y="255.34" font-size="2.8" fill="#222" text-anchor="end" textLength="18.2" lengthAdjust="spacingAndGlyphs">HYDROXYHYDROXY</text>
<text x="64.9" y="257.49" font-size="2.8" fill="#222" text-anchor="end" textLength="8.0" lengthAdjust="spacingAndGlyphs">CARNITINE</text>
<text x="64.9" y="259.63" font-size="2.8" fill="#222" text-anchor="end" textLength="7.3" lengthAdjust="spacingAndGlyphs">SERINE</text>
<text x="64.9" y="261.78" font-size="2.8" fill="#222" text-anchor="end" textLength="19.0" lengthAdjust="spacingAndGlyphs">CITRATECITRATE</text>
<text x="64.9" y="263.93" font-size="2.8" fill="#222" text-anchor="end" textLength="19.7" lengthAdjust="spacingAndGlyphs">CARNITINEPHOSPHATE</text>
<text x="64.9" y="266.07" font-size="2.8" fill="#222" text-anchor="end" textLength="11.7" lengthAdjust="spacingAndGlyphs">SUCCINATE</text>
<text x="64.9" y="268.22" font-size="2.8" fill="#222" text-anchor="end" textLength="18.2" lengthAdjust="spacingAndGlyphs">METHYLCITRATE</text>
<text x="64.9" y="270.37" font-size="2.8" fill="#222" text-anchor="end" textLength="21.8" lengthAdjust="spacingAndGlyphs">HYDROXY 2-SERINE</text>
<text x="64.9" y="272.51" font-size="2.8" fill="#222" text-anchor="end" textLength="8.7" lengthAdjust="spacingAndGlyphs">LYSINE</text>
<text x="64.9" y="274.66" font-size="2.8" fill="#222" text-anchor="end" textLength="19.0" lengthAdjust="spacingAndGlyphs">URIDINEBUTYRATE</text>
<text x="64.9" y="276.81" font-size="2.8" fill="#222" text-anchor="end" textLength="24.0" lengthAdjust="spacingAndGlyphs">CARNITINEADENOSINE</text>
<text x="64.9" y="281.10" font-size="2.8" fill="#222" text-anchor="end" textLength="17.5" lengthAdjust="spacingAndGlyphs">GLUTAMINELYSINE</text>
<text x="64.9" y="285.40" font-size="2.8" fill="#222" text-anchor="end" textLength="10.0" lengthAdjust="spacingAndGlyphs">METHYL</text>
<text x="64.9" y="287.54" font-size="2.8" fill="#222" text-anchor="end" textLength="8.7" lengthAdjust="spacingAndGlyphs">BUTYRATE</text>
<text x="64.9" y="289.69" font-size="2.8" fill="#222" text-anchor="end" textLength="5.8" lengthAdjust="spacingAndGlyphs">SUCCINATE</text>
<text x="64.9" y="291.84" font-size="2.8" fill="#222" text-anchor="end" textLength="9.3" lengthAdjust="spacingAndGlyphs">ALANINE</text>
<text x="64.9" y="293.98" font-size="2.8" fill="#222" text-anchor="end" textLength="15.7" lengthAdjust="spacingAndGlyphs">XANTHINEHYDROXY</text>
<text x="64.9" y="296.13" font-size="2.8" fill="#222" text-anchor="end" textLength="15.2" lengthAdjust="spacingAndGlyphs">SUCCINATE</text>
<text x="64.9" y="298.28" font-size="2.8" fill="#222" text-anchor="end" textLength="13.7" lengthAdjust="spacingAndGlyphs">INOSINE MALATE</text>
<text x="64.9" y="300.43" font-size="2.8" fill="#222" text-anchor="end" textLength="11.9" lengthAdjust="spacingAndGlyphs">CARNITINE</text>
<text x="64.9" y="302.57" font-size="2.8" fill="#222" text-anchor="end" textLength="26.8" lengthAdjust="spacingAndGlyphs">CARNITINE INOSINE</text>
<text x="64.9" y="304.72" font-size="2.8" fill="#222" text-anchor="end" textLength="26.2" lengthAdjust="spacingAndGlyphs">2-3-MALATE ALANINE</text>
<text x="64.9" y="309.01" font-size="2.8" fill="#222" text-anchor="end" textLength="11.5" lengthAdjust="spacingAndGlyphs">PHOSPHATE</text>
<text x="64.9" y="311.16" font-size="2.8" fill="#222" text-anchor="end" textLength="21.4" lengthAdjust="spacingAndGlyphs">CHOLINEGLUTARYL</text>
<text x="64.9" y="313.31" font-size="2.8" fill="#222" text-anchor="end" textLength="14.4" lengthAdjust="spacingAndGlyphs">CARNITINE</text>
<text x="64.9" y="315.45" font-size="2.8" fill="#222" text-anchor="end" textLength="12.7" lengthAdjust="spacingAndGlyphs">HYDROXY</text>
<text x="64.9" y="317.60" font-size="2.8" fill="#222" text-anchor="end" textLength="24.9" lengthAdjust="spacingAndGlyphs">LYSINEPHOSPHATE</text>
<text x="64.9" y="321.90" font-size="2.8" fill="#222" text-anchor="end" textLength="12.7" lengthAdjust="spacingAndGlyphs">SERINETAURINE</text>
<text x="64.9" y="324.04" font-size="2.8" fill="#222" text-anchor="end" textLength="8.6" lengthAdjust="spacingAndGlyphs">GLUTARYL</text>
<text x="-0.60" y="153.10" font-size="4.4" fill="#000" font-weight="bold" text-anchor="start" stroke="#000" stroke-width="0.14" textLength="37.4" lengthAdjust="spacingAndGlyphs">Cyclic ADP-ribose</text>
<polyline points="37.00,151.70 39.00,151.70 43.70,156.90 65.50,156.90" fill="none" stroke="#666" stroke-width="0.5"/>
<text x="-0.60" y="161.10" font-size="4.4" fill="#000" font-weight="bold" text-anchor="start" stroke="#000" stroke-width="0.14" textLength="12.8" lengthAdjust="spacingAndGlyphs">NAD+</text>
<line x1="12.70" y1="159.90" x2="65.50" y2="159.90" stroke="#666" stroke-width="0.55"/>
<text x="-0.60" y="169.00" font-size="4.4" fill="#000" font-weight="bold" text-anchor="start" stroke="#000" stroke-width="0.14" textLength="31.0" lengthAdjust="spacingAndGlyphs">NICOTINAMIDE</text>
<text x="-0.60" y="172.50" font-size="4.4" fill="#000" font-weight="bold" text-anchor="start" stroke="#000" stroke-width="0.14" textLength="39.0" lengthAdjust="spacingAndGlyphs">MONONUCLEOTIDE</text>
<polyline points="38.60,169.00 44.10,162.40 65.50,162.40" fill="none" stroke="#666" stroke-width="0.5"/>
<text x="-1.20" y="210.60" font-size="4.4" fill="#000" font-weight="bold" text-anchor="start" stroke="#000" stroke-width="0.14" textLength="19.8" lengthAdjust="spacingAndGlyphs">QUINATE</text>
<line x1="19.00" y1="209.60" x2="65.50" y2="209.60" stroke="#666" stroke-width="0.55"/>
<text x="-0.60" y="217.80" font-size="4.4" fill="#000" font-weight="bold" text-anchor="start" stroke="#000" stroke-width="0.14" textLength="25.5" lengthAdjust="spacingAndGlyphs">PIPECOLATE</text>
<line x1="25.50" y1="215.20" x2="65.50" y2="215.20" stroke="#666" stroke-width="0.55"/>
<text x="-0.60" y="221.70" font-size="4.4" fill="#000" font-weight="bold" text-anchor="start" stroke="#000" stroke-width="0.14" textLength="31.2" lengthAdjust="spacingAndGlyphs">4–PYRIDOXATE</text>
<polyline points="31.00,221.00 38.20,217.20 65.50,217.20" fill="none" stroke="#666" stroke-width="0.5"/>
<text x="-0.60" y="228.50" font-size="4.4" fill="#000" font-weight="bold" text-anchor="start" stroke="#000" stroke-width="0.14" textLength="23.4" lengthAdjust="spacingAndGlyphs">HIPPURATE</text>
<line x1="23.90" y1="226.70" x2="65.50" y2="226.70" stroke="#666" stroke-width="0.55"/>
<text x="-0.60" y="279.00" font-size="4.4" fill="#000" font-weight="bold" text-anchor="start" stroke="#000" stroke-width="0.14" textLength="16.2" lengthAdjust="spacingAndGlyphs">URACIL</text>
<line x1="16.70" y1="277.60" x2="65.50" y2="277.60" stroke="#666" stroke-width="0.55"/>
<text x="-0.60" y="283.80" font-size="4.4" fill="#000" font-weight="bold" text-anchor="start" stroke="#000" stroke-width="0.14" textLength="25.0" lengthAdjust="spacingAndGlyphs">CITRULLINE</text>
<line x1="25.50" y1="282.10" x2="65.50" y2="282.10" stroke="#666" stroke-width="0.55"/>
<text x="-0.90" y="306.00" font-size="4.4" fill="#000" font-weight="bold" text-anchor="start" stroke="#000" stroke-width="0.14" textLength="21.5" lengthAdjust="spacingAndGlyphs">THIAMINE</text>
<text x="-0.90" y="310.00" font-size="4.4" fill="#000" font-weight="bold" text-anchor="start" stroke="#000" stroke-width="0.14" textLength="37.4" lengthAdjust="spacingAndGlyphs">PYROPHOSPHATE</text>
<line x1="20.70" y1="305.00" x2="36.60" y2="305.00" stroke="#666" stroke-width="0.55"/>
<text x="-0.90" y="323.50" font-size="4.4" fill="#000" font-weight="bold" text-anchor="start" stroke="#000" stroke-width="0.14" textLength="37.4" lengthAdjust="spacingAndGlyphs">N–ACETYLSERINE</text>
<polyline points="36.60,322.00 42.20,318.20 65.50,318.20" fill="none" stroke="#666" stroke-width="0.5"/>
<text x="65.00" y="329.40" font-size="4.7" fill="#333" font-weight="normal" text-anchor="end" >disease</text>
<text x="0" y="0" font-size="4.45" fill="#333" transform="translate(70.17,330.20) rotate(90)">NL 10</text>
<text x="0" y="0" font-size="4.45" fill="#333" transform="translate(81.91,330.20) rotate(90)">NL 9</text>
<text x="0" y="0" font-size="4.45" fill="#333" transform="translate(93.65,330.20) rotate(90)">NL 11</text>
<text x="0" y="0" font-size="4.45" fill="#333" transform="translate(105.39,330.20) rotate(90)">NL 13</text>
<text x="0" y="0" font-size="4.45" fill="#333" transform="translate(117.13,330.20) rotate(90)">NL 14</text>
<text x="0" y="0" font-size="4.45" fill="#333" transform="translate(128.87,330.20) rotate(90)">NL 12</text>
<text x="0" y="0" font-size="4.45" fill="#333" transform="translate(140.61,330.20) rotate(90)">CLE 15</text>
<text x="0" y="0" font-size="4.45" fill="#333" transform="translate(152.35,330.20) rotate(90)">CLE 13</text>
<text x="0" y="0" font-size="4.45" fill="#333" transform="translate(164.09,330.20) rotate(90)">CLE 16</text>
<text x="0" y="0" font-size="4.45" fill="#333" transform="translate(175.83,330.20) rotate(90)">CLE 14</text>
<text x="0" y="0" font-size="4.45" fill="#333" transform="translate(187.57,330.20) rotate(90)">CLE 12</text>
<text x="201.20" y="204.80" font-size="3.4" fill="#111" font-weight="bold" text-anchor="start" stroke="#111" stroke-width="0.05">relative levels</text>
<defs><linearGradient id="cb" x1="0" y1="0" x2="0" y2="1"><stop offset="0" stop-color="#ff0000"/><stop offset="0.22" stop-color="#ff1a10"/><stop offset="0.42" stop-color="#ffb0a8"/><stop offset="0.5" stop-color="#ffffff"/><stop offset="0.58" stop-color="#b8b0ff"/><stop offset="0.74" stop-color="#1a10ff"/><stop offset="1" stop-color="#0000ff"/></linearGradient></defs>
<rect x="201.2" y="205.6" width="4.0" height="20.3" fill="url(#cb)"/>
<text x="206.10" y="207.30" font-size="3.6" fill="#222" font-weight="normal" text-anchor="start" >4</text>
<text x="206.10" y="211.60" font-size="3.6" fill="#222" font-weight="normal" text-anchor="start" >2</text>
<text x="206.10" y="216.70" font-size="3.6" fill="#222" font-weight="normal" text-anchor="start" >0</text>
<text x="206.10" y="221.50" font-size="3.6" fill="#222" font-weight="normal" text-anchor="start" >-2</text>
<text x="206.10" y="225.90" font-size="3.6" fill="#222" font-weight="normal" text-anchor="start" >-4</text>
<text x="201.20" y="239.40" font-size="3.5" fill="#111" font-weight="bold" text-anchor="start" stroke="#111" stroke-width="0.05">disease</text>
<rect x="201.2" y="240.6" width="3.8" height="3.8" fill="#5cb896"/>
<rect x="201.2" y="244.5" width="3.8" height="3.8" fill="#8a9ed0"/>
<text x="206.00" y="243.70" font-size="3.5" fill="#222" font-weight="normal" text-anchor="start" >CLE</text>
<text x="206.00" y="247.60" font-size="3.5" fill="#222" font-weight="normal" text-anchor="start" >Normal</text>
<text x="229.70" y="158.00" font-size="8.4" fill="#000" font-weight="bold" text-anchor="start" stroke="#000" stroke-width="0.12">C</text>
<text x="336.80" y="150.50" font-size="6.5" fill="#111" font-weight="normal" text-anchor="start" stroke="#111" stroke-width="0.1" textLength="59.6" lengthAdjust="spacingAndGlyphs">CLE vs Normal Serum</text>
<line x1="286.80" y1="154.30" x2="440.00" y2="154.30" stroke="#777" stroke-width="0.55"/>
<polyline points="291.40,168.20 291.40,163.50 300.40,163.50 300.40,168.20" fill="none" stroke="#808080" stroke-width="0.45"/>
<polyline points="295.90,163.50 295.90,162.80 309.40,162.80 309.40,168.20" fill="none" stroke="#808080" stroke-width="0.45"/>
<polyline points="302.65,162.80 302.65,162.00 318.40,162.00 318.40,168.20" fill="none" stroke="#808080" stroke-width="0.45"/>
<polyline points="310.52,162.00 310.52,161.40 327.40,161.40 327.40,168.20" fill="none" stroke="#808080" stroke-width="0.45"/>
<polyline points="336.40,168.20 336.40,162.30 345.40,162.30 345.40,168.20" fill="none" stroke="#808080" stroke-width="0.45"/>
<polyline points="318.96,161.40 318.96,160.40 340.90,160.40 340.90,162.30" fill="none" stroke="#808080" stroke-width="0.45"/>
<polyline points="354.40,168.20 354.40,161.50 363.40,161.50 363.40,168.20" fill="none" stroke="#808080" stroke-width="0.45"/>
<polyline points="358.90,161.50 358.90,159.40 372.40,159.40 372.40,168.20" fill="none" stroke="#808080" stroke-width="0.45"/>
<polyline points="381.40,168.20 381.40,162.30 390.40,162.30 390.40,168.20" fill="none" stroke="#808080" stroke-width="0.45"/>
<polyline points="385.90,162.30 385.90,161.60 399.40,161.60 399.40,168.20" fill="none" stroke="#808080" stroke-width="0.45"/>
<polyline points="408.40,168.20 408.40,162.00 417.40,162.00 417.40,168.20" fill="none" stroke="#808080" stroke-width="0.45"/>
<polyline points="426.40,168.20 426.40,163.00 435.40,163.00 435.40,168.20" fill="none" stroke="#808080" stroke-width="0.45"/>
<polyline points="412.90,162.00 412.90,161.00 430.90,161.00 430.90,163.00" fill="none" stroke="#808080" stroke-width="0.45"/>
<polyline points="392.65,161.60 392.65,160.60 421.90,160.60 421.90,161.00" fill="none" stroke="#808080" stroke-width="0.45"/>
<polyline points="365.65,159.40 365.65,158.00 407.27,158.00 407.27,160.60" fill="none" stroke="#808080" stroke-width="0.45"/>
<polyline points="329.93,160.40 329.93,156.10 386.46,156.10 386.46,158.00" fill="none" stroke="#808080" stroke-width="0.45"/>
<text x="285.4" y="170.77" font-size="2.75" fill="#333" text-anchor="end" textLength="12.3" lengthAdjust="spacingAndGlyphs">URIDINEDI</text>
<text x="285.4" y="173.51" font-size="2.75" fill="#333" text-anchor="end" textLength="17.7" lengthAdjust="spacingAndGlyphs">ALANINECITRATE</text>
<text x="285.4" y="176.25" font-size="2.75" fill="#333" text-anchor="end" textLength="13.8" lengthAdjust="spacingAndGlyphs">URIDINESERINE</text>
<text x="285.4" y="179.00" font-size="2.75" fill="#333" text-anchor="end" textLength="26.0" lengthAdjust="spacingAndGlyphs">3-2-OXO CARNITINE</text>
<text x="285.4" y="181.74" font-size="2.75" fill="#333" text-anchor="end" textLength="33.4" lengthAdjust="spacingAndGlyphs">N-ACETYL2-TAURINE3- OXO</text>
<text x="285.4" y="184.48" font-size="2.75" fill="#333" text-anchor="end" textLength="17.0" lengthAdjust="spacingAndGlyphs">ALANINEGLUTARYL</text>
<text x="285.4" y="187.22" font-size="2.75" fill="#333" text-anchor="end" textLength="26.0" lengthAdjust="spacingAndGlyphs">3-SUCCINATE MALATE</text>
<text x="285.4" y="189.96" font-size="2.75" fill="#333" text-anchor="end" textLength="32.0" lengthAdjust="spacingAndGlyphs">METHYLDI5-DIURIDINECITRATE</text>
<text x="285.4" y="192.71" font-size="2.75" fill="#333" text-anchor="end" textLength="17.0" lengthAdjust="spacingAndGlyphs">URIDINECARNITINE</text>
<text x="285.4" y="195.45" font-size="2.75" fill="#333" text-anchor="end" textLength="17.0" lengthAdjust="spacingAndGlyphs">HYDROXY XANTHINE</text>
<text x="285.4" y="198.19" font-size="2.75" fill="#333" text-anchor="end" textLength="27.6" lengthAdjust="spacingAndGlyphs">TAURINELYSINE SUCCINATE</text>
<text x="285.4" y="200.93" font-size="2.75" fill="#333" text-anchor="end" textLength="15.0" lengthAdjust="spacingAndGlyphs">OXOCHOLINE</text>
<text x="285.4" y="203.67" font-size="2.75" fill="#333" text-anchor="end" textLength="31.0" lengthAdjust="spacingAndGlyphs">SUCCINATEALANINE3-INOSINE</text>
<text x="285.4" y="206.42" font-size="2.75" fill="#333" text-anchor="end" textLength="14.0" lengthAdjust="spacingAndGlyphs">N-ACETYLGLUTARYL</text>
<text x="285.4" y="211.90" font-size="2.75" fill="#333" text-anchor="end" textLength="16.0" lengthAdjust="spacingAndGlyphs">BUTYRATE PHOSPHATE</text>
<text x="285.4" y="214.64" font-size="2.75" fill="#333" text-anchor="end" textLength="13.3" lengthAdjust="spacingAndGlyphs">OXOCITRATE</text>
<text x="285.4" y="217.38" font-size="2.75" fill="#333" text-anchor="end" textLength="27.0" lengthAdjust="spacingAndGlyphs">METHYL ADENOSINE</text>
<text x="285.4" y="220.13" font-size="2.75" fill="#333" text-anchor="end" textLength="15.0" lengthAdjust="spacingAndGlyphs">3-BUTYRATE</text>
<text x="285.4" y="225.61" font-size="2.75" fill="#333" text-anchor="end" textLength="24.6" lengthAdjust="spacingAndGlyphs">MALATE PROLINE5-</text>
<text x="285.4" y="228.35" font-size="2.75" fill="#333" text-anchor="end" textLength="32.0" lengthAdjust="spacingAndGlyphs">CARNITINE TAURINEGLUCOSE</text>
<text x="285.4" y="231.09" font-size="2.75" fill="#333" text-anchor="end" textLength="19.0" lengthAdjust="spacingAndGlyphs">MALATE BUTYRATE</text>
<text x="285.4" y="233.84" font-size="2.75" fill="#333" text-anchor="end" textLength="19.0" lengthAdjust="spacingAndGlyphs">GLUTAMINE DI</text>
<text x="285.4" y="236.58" font-size="2.75" fill="#333" text-anchor="end" textLength="15.0" lengthAdjust="spacingAndGlyphs">HYDROXYGLUCOSE</text>
<text x="285.4" y="239.32" font-size="2.75" fill="#333" text-anchor="end" textLength="42.6" lengthAdjust="spacingAndGlyphs">METHYL GLUTARYLALANINESERINE</text>
<text x="285.4" y="242.06" font-size="2.75" fill="#333" text-anchor="end" textLength="64.0" lengthAdjust="spacingAndGlyphs">ALANINE LYSINEPROLINE SUCCINATE 5- PROLINE</text>
<text x="285.4" y="244.80" font-size="2.75" fill="#333" text-anchor="end" textLength="32.0" lengthAdjust="spacingAndGlyphs">GLUTAMINEALANINEPHOSPHATE</text>
<text x="285.4" y="247.55" font-size="2.75" fill="#333" text-anchor="end" textLength="15.0" lengthAdjust="spacingAndGlyphs">METHYLSERINE</text>
<text x="285.4" y="250.29" font-size="2.75" fill="#333" text-anchor="end" textLength="24.6" lengthAdjust="spacingAndGlyphs">ALANINEMALATE 3-</text>
<text x="285.4" y="253.03" font-size="2.75" fill="#333" text-anchor="end" textLength="14.0" lengthAdjust="spacingAndGlyphs">MALATEGLUTARYL</text>
<text x="285.4" y="255.77" font-size="2.75" fill="#333" text-anchor="end" textLength="10.0" lengthAdjust="spacingAndGlyphs">CHOLINE</text>
<text x="285.4" y="258.51" font-size="2.75" fill="#333" text-anchor="end" textLength="33.0" lengthAdjust="spacingAndGlyphs">INOSINE GLUTAMINEGLUTAMINE</text>
<text x="285.4" y="261.26" font-size="2.75" fill="#333" text-anchor="end" textLength="20.8" lengthAdjust="spacingAndGlyphs">SUCCINATECHOLINE</text>
<text x="285.4" y="264.00" font-size="2.75" fill="#333" text-anchor="end" textLength="18.0" lengthAdjust="spacingAndGlyphs">SUCCINATE2-</text>
<text x="285.4" y="266.74" font-size="2.75" fill="#333" text-anchor="end" textLength="15.0" lengthAdjust="spacingAndGlyphs">5-PROLINESUCCINATE</text>
<text x="285.4" y="269.48" font-size="2.75" fill="#333" text-anchor="end" textLength="15.0" lengthAdjust="spacingAndGlyphs">ALANINEGLUTAMINE</text>
<text x="285.4" y="272.22" font-size="2.75" fill="#333" text-anchor="end" textLength="12.0" lengthAdjust="spacingAndGlyphs">CARNITINE</text>
<text x="221.90" y="211.00" font-size="5.2" fill="#000" font-weight="bold" text-anchor="start" stroke="#000" stroke-width="0.12">CYSTINE</text>
<line x1="245.90" y1="208.60" x2="286.80" y2="208.60" stroke="#666" stroke-width="0.6"/>
<text x="222.60" y="225.50" font-size="5.2" fill="#000" font-weight="bold" text-anchor="start" stroke="#000" stroke-width="0.12">ARABINOSE</text>
<line x1="255.20" y1="222.90" x2="286.80" y2="222.90" stroke="#666" stroke-width="0.6"/>
<text x="285.40" y="278.60" font-size="5.6" fill="#222" font-weight="normal" text-anchor="end" >disease</text>
<text x="0" y="0" font-size="5.2" fill="#333" stroke="#333" stroke-width="0.04" transform="translate(288.90,281.00) rotate(90)">NL 8</text>
<text x="0" y="0" font-size="5.2" fill="#333" stroke="#333" stroke-width="0.04" transform="translate(297.90,281.00) rotate(90)">NL 2</text>
<text x="0" y="0" font-size="5.2" fill="#333" stroke="#333" stroke-width="0.04" transform="translate(306.90,281.00) rotate(90)">NL 6</text>
<text x="0" y="0" font-size="5.2" fill="#333" stroke="#333" stroke-width="0.04" transform="translate(315.90,281.00) rotate(90)">NL 5</text>
<text x="0" y="0" font-size="5.2" fill="#333" stroke="#333" stroke-width="0.04" transform="translate(324.90,281.00) rotate(90)">NL 7</text>
<text x="0" y="0" font-size="5.2" fill="#333" stroke="#333" stroke-width="0.04" transform="translate(333.90,281.00) rotate(90)">NL 4</text>
<text x="0" y="0" font-size="5.2" fill="#333" stroke="#333" stroke-width="0.04" transform="translate(342.90,281.00) rotate(90)">NL 3</text>
<text x="0" y="0" font-size="5.2" fill="#333" stroke="#333" stroke-width="0.04" transform="translate(351.90,281.00) rotate(90)">CLE 7</text>
<text x="0" y="0" font-size="5.2" fill="#333" stroke="#333" stroke-width="0.04" transform="translate(360.90,281.00) rotate(90)">CLE 6</text>
<text x="0" y="0" font-size="5.2" fill="#333" stroke="#333" stroke-width="0.04" transform="translate(369.90,281.00) rotate(90)">CLE 5</text>
<text x="0" y="0" font-size="5.2" fill="#333" stroke="#333" stroke-width="0.04" transform="translate(378.90,281.00) rotate(90)">CLE 10</text>
<text x="0" y="0" font-size="5.2" fill="#333" stroke="#333" stroke-width="0.04" transform="translate(387.90,281.00) rotate(90)">CLE 4</text>
<text x="0" y="0" font-size="5.2" fill="#333" stroke="#333" stroke-width="0.04" transform="translate(396.90,281.00) rotate(90)">CLE 9</text>
<text x="0" y="0" font-size="5.2" fill="#333" stroke="#333" stroke-width="0.04" transform="translate(405.90,281.00) rotate(90)">CLE 3</text>
<text x="0" y="0" font-size="5.2" fill="#333" stroke="#333" stroke-width="0.04" transform="translate(414.90,281.00) rotate(90)">NL 1</text>
<text x="0" y="0" font-size="5.2" fill="#333" stroke="#333" stroke-width="0.04" transform="translate(423.90,281.00) rotate(90)">CLE 8</text>
<text x="0" y="0" font-size="5.2" fill="#333" stroke="#333" stroke-width="0.04" transform="translate(432.90,281.00) rotate(90)">CLE 11</text>
<text x="333.00" y="316.90" font-size="4.4" fill="#111" font-weight="bold" text-anchor="start" stroke="#111" stroke-width="0.05">disease</text>
<rect x="333.0" y="319.2" width="4.8" height="4.0" fill="#5cb896"/>
<rect x="333.0" y="323.5" width="4.8" height="4.0" fill="#8a9ed0"/>
<text x="339.00" y="322.90" font-size="4.4" fill="#222" font-weight="normal" text-anchor="start" >CLE</text>
<text x="339.00" y="327.30" font-size="4.4" fill="#222" font-weight="normal" text-anchor="start" >Normal</text>
<text x="378.50" y="307.50" font-size="4.3" fill="#111" font-weight="bold" text-anchor="start" stroke="#111" stroke-width="0.05">relative levels</text>
<rect x="378.5" y="308.6" width="5.5" height="25.1" fill="url(#cb)"/>
<text x="384.80" y="311.40" font-size="4.1" fill="#222" font-weight="normal" text-anchor="start" >4</text>
<text x="384.80" y="317.40" font-size="4.1" fill="#222" font-weight="normal" text-anchor="start" >2</text>
<text x="384.80" y="322.90" font-size="4.1" fill="#222" font-weight="normal" text-anchor="start" >0</text>
<text x="384.80" y="328.40" font-size="4.1" fill="#222" font-weight="normal" text-anchor="start" >-2</text>
<text x="384.80" y="333.90" font-size="4.1" fill="#222" font-weight="normal" text-anchor="start" >-4</text>
<text x="107.30" y="8.60" font-size="9.2" fill="#000" font-weight="bold" text-anchor="start" stroke="#000" stroke-width="0.15">A</text>
<rect x="127.0" y="16.4" width="67.80000000000001" height="78.1" fill="#fff"/>
<line x1="133.55" y1="16.40" x2="133.55" y2="94.50" stroke="#f4f4f4" stroke-width="0.3"/>
<line x1="139.80" y1="16.40" x2="139.80" y2="94.50" stroke="#ebebeb" stroke-width="0.5"/>
<line x1="146.05" y1="16.40" x2="146.05" y2="94.50" stroke="#f4f4f4" stroke-width="0.3"/>
<line x1="152.30" y1="16.40" x2="152.30" y2="94.50" stroke="#ebebeb" stroke-width="0.5"/>
<line x1="158.55" y1="16.40" x2="158.55" y2="94.50" stroke="#f4f4f4" stroke-width="0.3"/>
<line x1="164.80" y1="16.40" x2="164.80" y2="94.50" stroke="#ebebeb" stroke-width="0.5"/>
<line x1="171.05" y1="16.40" x2="171.05" y2="94.50" stroke="#f4f4f4" stroke-width="0.3"/>
<line x1="177.30" y1="16.40" x2="177.30" y2="94.50" stroke="#ebebeb" stroke-width="0.5"/>
<line x1="183.55" y1="16.40" x2="183.55" y2="94.50" stroke="#f4f4f4" stroke-width="0.3"/>
<line x1="189.80" y1="16.40" x2="189.80" y2="94.50" stroke="#ebebeb" stroke-width="0.5"/>
<line x1="127.00" y1="21.10" x2="194.80" y2="21.10" stroke="#f4f4f4" stroke-width="0.3"/>
<line x1="127.00" y1="28.80" x2="194.80" y2="28.80" stroke="#ebebeb" stroke-width="0.5"/>
<line x1="127.00" y1="36.50" x2="194.80" y2="36.50" stroke="#f4f4f4" stroke-width="0.3"/>
<line x1="127.00" y1="44.20" x2="194.80" y2="44.20" stroke="#ebebeb" stroke-width="0.5"/>
<line x1="127.00" y1="51.90" x2="194.80" y2="51.90" stroke="#f4f4f4" stroke-width="0.3"/>
<line x1="127.00" y1="59.60" x2="194.80" y2="59.60" stroke="#ebebeb" stroke-width="0.5"/>
<line x1="127.00" y1="67.30" x2="194.80" y2="67.30" stroke="#f4f4f4" stroke-width="0.3"/>
<line x1="127.00" y1="75.00" x2="194.80" y2="75.00" stroke="#ebebeb" stroke-width="0.5"/>
<line x1="127.00" y1="82.70" x2="194.80" y2="82.70" stroke="#f4f4f4" stroke-width="0.3"/>
<line x1="127.00" y1="90.40" x2="194.80" y2="90.40" stroke="#ebebeb" stroke-width="0.5"/>
<rect x="127.0" y="16.4" width="67.80000000000001" height="78.1" fill="none" stroke="#333" stroke-width="0.55"/>
<line x1="139.80" y1="94.50" x2="139.80" y2="95.70" stroke="#333" stroke-width="0.5"/>
<text x="139.80" y="101.20" font-size="5.1" fill="#4d4d4d" font-weight="normal" text-anchor="middle" stroke="#4d4d4d" stroke-width="0.06">-10</text>
<line x1="152.30" y1="94.50" x2="152.30" y2="95.70" stroke="#333" stroke-width="0.5"/>
<text x="152.30" y="101.20" font-size="5.1" fill="#4d4d4d" font-weight="normal" text-anchor="middle" stroke="#4d4d4d" stroke-width="0.06">-5</text>
<line x1="164.80" y1="94.50" x2="164.80" y2="95.70" stroke="#333" stroke-width="0.5"/>
<text x="164.80" y="101.20" font-size="5.1" fill="#4d4d4d" font-weight="normal" text-anchor="middle" stroke="#4d4d4d" stroke-width="0.06">0</text>
<line x1="177.30" y1="94.50" x2="177.30" y2="95.70" stroke="#333" stroke-width="0.5"/>
<text x="177.30" y="101.20" font-size="5.1" fill="#4d4d4d" font-weight="normal" text-anchor="middle" stroke="#4d4d4d" stroke-width="0.06">5</text>
<line x1="189.80" y1="94.50" x2="189.80" y2="95.70" stroke="#333" stroke-width="0.5"/>
<text x="189.80" y="101.20" font-size="5.1" fill="#4d4d4d" font-weight="normal" text-anchor="middle" stroke="#4d4d4d" stroke-width="0.06">10</text>
<line x1="125.80" y1="28.80" x2="127.00" y2="28.80" stroke="#333" stroke-width="0.5"/>
<text x="125.20" y="31.00" font-size="5.1" fill="#4d4d4d" font-weight="normal" text-anchor="end" stroke="#4d4d4d" stroke-width="0.06">5</text>
<line x1="125.80" y1="44.20" x2="127.00" y2="44.20" stroke="#333" stroke-width="0.5"/>
<text x="125.20" y="46.40" font-size="5.1" fill="#4d4d4d" font-weight="normal" text-anchor="end" stroke="#4d4d4d" stroke-width="0.06">0</text>
<line x1="125.80" y1="59.60" x2="127.00" y2="59.60" stroke="#333" stroke-width="0.5"/>
<text x="125.20" y="61.80" font-size="5.1" fill="#4d4d4d" font-weight="normal" text-anchor="end" stroke="#4d4d4d" stroke-width="0.06">-5</text>
<line x1="125.80" y1="75.00" x2="127.00" y2="75.00" stroke="#333" stroke-width="0.5"/>
<text x="125.20" y="77.20" font-size="5.1" fill="#4d4d4d" font-weight="normal" text-anchor="end" stroke="#4d4d4d" stroke-width="0.06">-10</text>
<line x1="125.80" y1="90.40" x2="127.00" y2="90.40" stroke="#333" stroke-width="0.5"/>
<text x="125.20" y="92.60" font-size="5.1" fill="#4d4d4d" font-weight="normal" text-anchor="end" stroke="#4d4d4d" stroke-width="0.06">-15</text>
<circle cx="166.7" cy="19.5" r="1.35" fill="#F8766D"/>
<circle cx="141.4" cy="28.4" r="1.35" fill="#F8766D"/>
<circle cx="139.9" cy="40.7" r="1.35" fill="#F8766D"/>
<circle cx="140.4" cy="43.2" r="1.35" fill="#F8766D"/>
<circle cx="130.0" cy="54.1" r="1.35" fill="#F8766D"/>
<circle cx="189.3" cy="24.0" r="1.35" fill="#00BFC4"/>
<circle cx="181.2" cy="31.2" r="1.35" fill="#00BFC4"/>
<circle cx="191.6" cy="30.6" r="1.35" fill="#00BFC4"/>
<circle cx="185.0" cy="46.9" r="1.35" fill="#00BFC4"/>
<circle cx="161.4" cy="79.9" r="1.35" fill="#00BFC4"/>
<circle cx="187.0" cy="90.8" r="1.35" fill="#00BFC4"/>
<text x="127.00" y="12.60" font-size="6.35" fill="#222" font-weight="normal" text-anchor="start" >skin samples</text>
<text x="160.60" y="107.20" font-size="6.0" fill="#111" font-weight="normal" text-anchor="middle" stroke="#111" stroke-width="0.1">PC1</text>
<text x="0" y="0" font-size="6.2" fill="#111" stroke="#111" stroke-width="0.1" text-anchor="middle" transform="translate(114.9,55.6) rotate(-90)">PC2</text>
<text x="203.00" y="47.20" font-size="5.6" fill="#222" font-weight="normal" text-anchor="start" >disease</text>
<circle cx="207.3" cy="55.0" r="1.35" fill="#F8766D"/>
<circle cx="207.3" cy="63.8" r="1.35" fill="#00BFC4"/>
<text x="213.80" y="56.90" font-size="4.9" fill="#222" font-weight="normal" text-anchor="start" >CLE</text>
<text x="213.80" y="65.80" font-size="4.9" fill="#222" font-weight="normal" text-anchor="start" >Normal</text>
<rect x="254.4" y="15.3" width="71.9" height="78.9" fill="#fff"/>
<line x1="261.80" y1="15.30" x2="261.80" y2="94.20" stroke="#ebebeb" stroke-width="0.5"/>
<line x1="271.80" y1="15.30" x2="271.80" y2="94.20" stroke="#f4f4f4" stroke-width="0.3"/>
<line x1="281.80" y1="15.30" x2="281.80" y2="94.20" stroke="#ebebeb" stroke-width="0.5"/>
<line x1="291.80" y1="15.30" x2="291.80" y2="94.20" stroke="#f4f4f4" stroke-width="0.3"/>
<line x1="301.80" y1="15.30" x2="301.80" y2="94.20" stroke="#ebebeb" stroke-width="0.5"/>
<line x1="311.80" y1="15.30" x2="311.80" y2="94.20" stroke="#f4f4f4" stroke-width="0.3"/>
<line x1="321.80" y1="15.30" x2="321.80" y2="94.20" stroke="#ebebeb" stroke-width="0.5"/>
<line x1="254.40" y1="18.50" x2="326.30" y2="18.50" stroke="#ebebeb" stroke-width="0.5"/>
<line x1="254.40" y1="26.10" x2="326.30" y2="26.10" stroke="#f4f4f4" stroke-width="0.3"/>
<line x1="254.40" y1="33.70" x2="326.30" y2="33.70" stroke="#ebebeb" stroke-width="0.5"/>
<line x1="254.40" y1="41.30" x2="326.30" y2="41.30" stroke="#f4f4f4" stroke-width="0.3"/>
<line x1="254.40" y1="48.90" x2="326.30" y2="48.90" stroke="#ebebeb" stroke-width="0.5"/>
<line x1="254.40" y1="56.50" x2="326.30" y2="56.50" stroke="#f4f4f4" stroke-width="0.3"/>
<line x1="254.40" y1="64.10" x2="326.30" y2="64.10" stroke="#ebebeb" stroke-width="0.5"/>
<line x1="254.40" y1="71.70" x2="326.30" y2="71.70" stroke="#f4f4f4" stroke-width="0.3"/>
<line x1="254.40" y1="79.30" x2="326.30" y2="79.30" stroke="#ebebeb" stroke-width="0.5"/>
<line x1="254.40" y1="86.90" x2="326.30" y2="86.90" stroke="#f4f4f4" stroke-width="0.3"/>
<rect x="254.4" y="15.3" width="71.9" height="78.9" fill="none" stroke="#333" stroke-width="0.55"/>
<line x1="261.80" y1="94.20" x2="261.80" y2="95.40" stroke="#333" stroke-width="0.5"/>
<text x="261.80" y="100.90" font-size="5.1" fill="#4d4d4d" font-weight="normal" text-anchor="middle" stroke="#4d4d4d" stroke-width="0.06">-10</text>
<line x1="281.80" y1="94.20" x2="281.80" y2="95.40" stroke="#333" stroke-width="0.5"/>
<text x="281.80" y="100.90" font-size="5.1" fill="#4d4d4d" font-weight="normal" text-anchor="middle" stroke="#4d4d4d" stroke-width="0.06">0</text>
<line x1="301.80" y1="94.20" x2="301.80" y2="95.40" stroke="#333" stroke-width="0.5"/>
<text x="301.80" y="100.90" font-size="5.1" fill="#4d4d4d" font-weight="normal" text-anchor="middle" stroke="#4d4d4d" stroke-width="0.06">10</text>
<line x1="321.80" y1="94.20" x2="321.80" y2="95.40" stroke="#333" stroke-width="0.5"/>
<text x="321.80" y="100.90" font-size="5.1" fill="#4d4d4d" font-weight="normal" text-anchor="middle" stroke="#4d4d4d" stroke-width="0.06">20</text>
<line x1="253.20" y1="18.50" x2="254.40" y2="18.50" stroke="#333" stroke-width="0.5"/>
<text x="252.60" y="20.70" font-size="5.1" fill="#4d4d4d" font-weight="normal" text-anchor="end" stroke="#4d4d4d" stroke-width="0.06">10</text>
<line x1="253.20" y1="33.70" x2="254.40" y2="33.70" stroke="#333" stroke-width="0.5"/>
<text x="252.60" y="35.90" font-size="5.1" fill="#4d4d4d" font-weight="normal" text-anchor="end" stroke="#4d4d4d" stroke-width="0.06">5</text>
<line x1="253.20" y1="48.90" x2="254.40" y2="48.90" stroke="#333" stroke-width="0.5"/>
<text x="252.60" y="51.10" font-size="5.1" fill="#4d4d4d" font-weight="normal" text-anchor="end" stroke="#4d4d4d" stroke-width="0.06">0</text>
<line x1="253.20" y1="64.10" x2="254.40" y2="64.10" stroke="#333" stroke-width="0.5"/>
<text x="252.60" y="66.30" font-size="5.1" fill="#4d4d4d" font-weight="normal" text-anchor="end" stroke="#4d4d4d" stroke-width="0.06">-5</text>
<line x1="253.20" y1="79.30" x2="254.40" y2="79.30" stroke="#333" stroke-width="0.5"/>
<text x="252.60" y="81.50" font-size="5.1" fill="#4d4d4d" font-weight="normal" text-anchor="end" stroke="#4d4d4d" stroke-width="0.06">-10</text>
<circle cx="303.3" cy="19.8" r="1.35" fill="#00BFC4"/>
<circle cx="290.5" cy="30.4" r="1.35" fill="#00BFC4"/>
<circle cx="295.9" cy="31.9" r="1.35" fill="#00BFC4"/>
<circle cx="301.7" cy="30.4" r="1.35" fill="#00BFC4"/>
<circle cx="302.6" cy="31.0" r="1.35" fill="#00BFC4"/>
<circle cx="272.0" cy="39.3" r="1.35" fill="#00BFC4"/>
<circle cx="280.6" cy="50.5" r="1.35" fill="#00BFC4"/>
<circle cx="262.4" cy="59.7" r="1.35" fill="#00BFC4"/>
<circle cx="257.6" cy="40.6" r="1.35" fill="#F8766D"/>
<circle cx="258.5" cy="40.9" r="1.35" fill="#F8766D"/>
<circle cx="267.2" cy="44.7" r="1.35" fill="#F8766D"/>
<circle cx="278.3" cy="56.5" r="1.35" fill="#F8766D"/>
<circle cx="278.3" cy="58.5" r="1.35" fill="#F8766D"/>
<circle cx="269.4" cy="65.5" r="1.35" fill="#F8766D"/>
<circle cx="271.0" cy="64.5" r="1.35" fill="#F8766D"/>
<circle cx="285.4" cy="83.7" r="1.35" fill="#F8766D"/>
<circle cx="323.7" cy="90.4" r="1.35" fill="#F8766D"/>
<text x="253.40" y="12.30" font-size="7.0" fill="#222" font-weight="normal" text-anchor="start" >serum samples</text>
<text x="291.90" y="107.20" font-size="6.0" fill="#111" font-weight="normal" text-anchor="middle" stroke="#111" stroke-width="0.1">PC1</text>
<text x="0" y="0" font-size="6.2" fill="#111" stroke="#111" stroke-width="0.1" text-anchor="middle" transform="translate(240.9,55.3) rotate(-90)">PC2</text></svg></body></html>
